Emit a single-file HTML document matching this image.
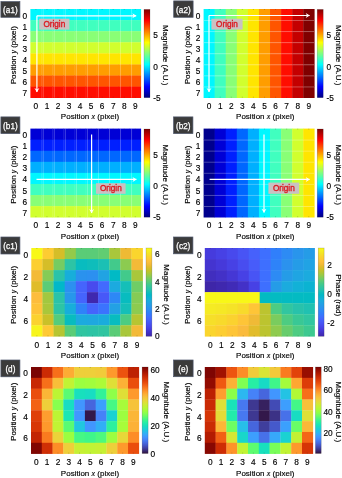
<!DOCTYPE html>
<html><head><meta charset="utf-8"><title>Figure</title>
<style>html,body{margin:0;padding:0;background:#fff;}svg{display:block}</style></head>
<body><svg width="342" height="478" viewBox="0 0 342 478">
<rect width="342" height="478" fill="#fff"/>
<g>
<rect x="30.40" y="9.00" width="11.34" height="11.39" fill="#00f7ff"/>
<rect x="41.44" y="9.00" width="11.34" height="11.39" fill="#00f7ff"/>
<rect x="52.48" y="9.00" width="11.34" height="11.39" fill="#00f7ff"/>
<rect x="63.52" y="9.00" width="11.34" height="11.39" fill="#00f7ff"/>
<rect x="74.56" y="9.00" width="11.34" height="11.39" fill="#00f7ff"/>
<rect x="85.60" y="9.00" width="11.34" height="11.39" fill="#00f7ff"/>
<rect x="96.64" y="9.00" width="11.34" height="11.39" fill="#00f7ff"/>
<rect x="107.68" y="9.00" width="11.34" height="11.39" fill="#00f7ff"/>
<rect x="118.72" y="9.00" width="11.34" height="11.39" fill="#00f7ff"/>
<rect x="129.76" y="9.00" width="11.34" height="11.39" fill="#00f7ff"/>
<rect x="30.40" y="20.09" width="11.34" height="11.39" fill="#40ffbf"/>
<rect x="41.44" y="20.09" width="11.34" height="11.39" fill="#40ffbf"/>
<rect x="52.48" y="20.09" width="11.34" height="11.39" fill="#40ffbf"/>
<rect x="63.52" y="20.09" width="11.34" height="11.39" fill="#40ffbf"/>
<rect x="74.56" y="20.09" width="11.34" height="11.39" fill="#40ffbf"/>
<rect x="85.60" y="20.09" width="11.34" height="11.39" fill="#40ffbf"/>
<rect x="96.64" y="20.09" width="11.34" height="11.39" fill="#40ffbf"/>
<rect x="107.68" y="20.09" width="11.34" height="11.39" fill="#40ffbf"/>
<rect x="118.72" y="20.09" width="11.34" height="11.39" fill="#40ffbf"/>
<rect x="129.76" y="20.09" width="11.34" height="11.39" fill="#40ffbf"/>
<rect x="30.40" y="31.18" width="11.34" height="11.39" fill="#89ff76"/>
<rect x="41.44" y="31.18" width="11.34" height="11.39" fill="#89ff76"/>
<rect x="52.48" y="31.18" width="11.34" height="11.39" fill="#89ff76"/>
<rect x="63.52" y="31.18" width="11.34" height="11.39" fill="#89ff76"/>
<rect x="74.56" y="31.18" width="11.34" height="11.39" fill="#89ff76"/>
<rect x="85.60" y="31.18" width="11.34" height="11.39" fill="#89ff76"/>
<rect x="96.64" y="31.18" width="11.34" height="11.39" fill="#89ff76"/>
<rect x="107.68" y="31.18" width="11.34" height="11.39" fill="#89ff76"/>
<rect x="118.72" y="31.18" width="11.34" height="11.39" fill="#89ff76"/>
<rect x="129.76" y="31.18" width="11.34" height="11.39" fill="#89ff76"/>
<rect x="30.40" y="42.26" width="11.34" height="11.39" fill="#d1ff2e"/>
<rect x="41.44" y="42.26" width="11.34" height="11.39" fill="#d1ff2e"/>
<rect x="52.48" y="42.26" width="11.34" height="11.39" fill="#d1ff2e"/>
<rect x="63.52" y="42.26" width="11.34" height="11.39" fill="#d1ff2e"/>
<rect x="74.56" y="42.26" width="11.34" height="11.39" fill="#d1ff2e"/>
<rect x="85.60" y="42.26" width="11.34" height="11.39" fill="#d1ff2e"/>
<rect x="96.64" y="42.26" width="11.34" height="11.39" fill="#d1ff2e"/>
<rect x="107.68" y="42.26" width="11.34" height="11.39" fill="#d1ff2e"/>
<rect x="118.72" y="42.26" width="11.34" height="11.39" fill="#d1ff2e"/>
<rect x="129.76" y="42.26" width="11.34" height="11.39" fill="#d1ff2e"/>
<rect x="30.40" y="53.35" width="11.34" height="11.39" fill="#ffe500"/>
<rect x="41.44" y="53.35" width="11.34" height="11.39" fill="#ffe500"/>
<rect x="52.48" y="53.35" width="11.34" height="11.39" fill="#ffe500"/>
<rect x="63.52" y="53.35" width="11.34" height="11.39" fill="#ffe500"/>
<rect x="74.56" y="53.35" width="11.34" height="11.39" fill="#ffe500"/>
<rect x="85.60" y="53.35" width="11.34" height="11.39" fill="#ffe500"/>
<rect x="96.64" y="53.35" width="11.34" height="11.39" fill="#ffe500"/>
<rect x="107.68" y="53.35" width="11.34" height="11.39" fill="#ffe500"/>
<rect x="118.72" y="53.35" width="11.34" height="11.39" fill="#ffe500"/>
<rect x="129.76" y="53.35" width="11.34" height="11.39" fill="#ffe500"/>
<rect x="30.40" y="64.44" width="11.34" height="11.39" fill="#ff9d00"/>
<rect x="41.44" y="64.44" width="11.34" height="11.39" fill="#ff9d00"/>
<rect x="52.48" y="64.44" width="11.34" height="11.39" fill="#ff9d00"/>
<rect x="63.52" y="64.44" width="11.34" height="11.39" fill="#ff9d00"/>
<rect x="74.56" y="64.44" width="11.34" height="11.39" fill="#ff9d00"/>
<rect x="85.60" y="64.44" width="11.34" height="11.39" fill="#ff9d00"/>
<rect x="96.64" y="64.44" width="11.34" height="11.39" fill="#ff9d00"/>
<rect x="107.68" y="64.44" width="11.34" height="11.39" fill="#ff9d00"/>
<rect x="118.72" y="64.44" width="11.34" height="11.39" fill="#ff9d00"/>
<rect x="129.76" y="64.44" width="11.34" height="11.39" fill="#ff9d00"/>
<rect x="30.40" y="75.53" width="11.34" height="11.39" fill="#ff5500"/>
<rect x="41.44" y="75.53" width="11.34" height="11.39" fill="#ff5500"/>
<rect x="52.48" y="75.53" width="11.34" height="11.39" fill="#ff5500"/>
<rect x="63.52" y="75.53" width="11.34" height="11.39" fill="#ff5500"/>
<rect x="74.56" y="75.53" width="11.34" height="11.39" fill="#ff5500"/>
<rect x="85.60" y="75.53" width="11.34" height="11.39" fill="#ff5500"/>
<rect x="96.64" y="75.53" width="11.34" height="11.39" fill="#ff5500"/>
<rect x="107.68" y="75.53" width="11.34" height="11.39" fill="#ff5500"/>
<rect x="118.72" y="75.53" width="11.34" height="11.39" fill="#ff5500"/>
<rect x="129.76" y="75.53" width="11.34" height="11.39" fill="#ff5500"/>
<rect x="30.40" y="86.61" width="11.34" height="11.39" fill="#ff0d00"/>
<rect x="41.44" y="86.61" width="11.34" height="11.39" fill="#ff0d00"/>
<rect x="52.48" y="86.61" width="11.34" height="11.39" fill="#ff0d00"/>
<rect x="63.52" y="86.61" width="11.34" height="11.39" fill="#ff0d00"/>
<rect x="74.56" y="86.61" width="11.34" height="11.39" fill="#ff0d00"/>
<rect x="85.60" y="86.61" width="11.34" height="11.39" fill="#ff0d00"/>
<rect x="96.64" y="86.61" width="11.34" height="11.39" fill="#ff0d00"/>
<rect x="107.68" y="86.61" width="11.34" height="11.39" fill="#ff0d00"/>
<rect x="118.72" y="86.61" width="11.34" height="11.39" fill="#ff0d00"/>
<rect x="129.76" y="86.61" width="11.34" height="11.39" fill="#ff0d00"/>
</g>
<line x1="43.24" y1="9.0" x2="43.24" y2="97.7" stroke="#fff" stroke-opacity="0.45" stroke-width="0.6"/>
<line x1="54.28" y1="9.0" x2="54.28" y2="97.7" stroke="#fff" stroke-opacity="0.45" stroke-width="0.6"/>
<line x1="65.32" y1="9.0" x2="65.32" y2="97.7" stroke="#fff" stroke-opacity="0.45" stroke-width="0.6"/>
<line x1="76.36" y1="9.0" x2="76.36" y2="97.7" stroke="#fff" stroke-opacity="0.45" stroke-width="0.6"/>
<line x1="87.40" y1="9.0" x2="87.40" y2="97.7" stroke="#fff" stroke-opacity="0.45" stroke-width="0.6"/>
<line x1="98.44" y1="9.0" x2="98.44" y2="97.7" stroke="#fff" stroke-opacity="0.45" stroke-width="0.6"/>
<line x1="109.48" y1="9.0" x2="109.48" y2="97.7" stroke="#fff" stroke-opacity="0.45" stroke-width="0.6"/>
<line x1="120.52" y1="9.0" x2="120.52" y2="97.7" stroke="#fff" stroke-opacity="0.45" stroke-width="0.6"/>
<line x1="131.56" y1="9.0" x2="131.56" y2="97.7" stroke="#fff" stroke-opacity="0.45" stroke-width="0.6"/>
<line x1="35.92" y1="9.0" x2="35.92" y2="10.0" stroke="#333" stroke-opacity="0.5" stroke-width="0.5"/>
<line x1="35.92" y1="97.7" x2="35.92" y2="96.7" stroke="#333" stroke-opacity="0.5" stroke-width="0.5"/>
<line x1="46.96" y1="9.0" x2="46.96" y2="10.0" stroke="#333" stroke-opacity="0.5" stroke-width="0.5"/>
<line x1="46.96" y1="97.7" x2="46.96" y2="96.7" stroke="#333" stroke-opacity="0.5" stroke-width="0.5"/>
<line x1="58.00" y1="9.0" x2="58.00" y2="10.0" stroke="#333" stroke-opacity="0.5" stroke-width="0.5"/>
<line x1="58.00" y1="97.7" x2="58.00" y2="96.7" stroke="#333" stroke-opacity="0.5" stroke-width="0.5"/>
<line x1="69.04" y1="9.0" x2="69.04" y2="10.0" stroke="#333" stroke-opacity="0.5" stroke-width="0.5"/>
<line x1="69.04" y1="97.7" x2="69.04" y2="96.7" stroke="#333" stroke-opacity="0.5" stroke-width="0.5"/>
<line x1="80.08" y1="9.0" x2="80.08" y2="10.0" stroke="#333" stroke-opacity="0.5" stroke-width="0.5"/>
<line x1="80.08" y1="97.7" x2="80.08" y2="96.7" stroke="#333" stroke-opacity="0.5" stroke-width="0.5"/>
<line x1="91.12" y1="9.0" x2="91.12" y2="10.0" stroke="#333" stroke-opacity="0.5" stroke-width="0.5"/>
<line x1="91.12" y1="97.7" x2="91.12" y2="96.7" stroke="#333" stroke-opacity="0.5" stroke-width="0.5"/>
<line x1="102.16" y1="9.0" x2="102.16" y2="10.0" stroke="#333" stroke-opacity="0.5" stroke-width="0.5"/>
<line x1="102.16" y1="97.7" x2="102.16" y2="96.7" stroke="#333" stroke-opacity="0.5" stroke-width="0.5"/>
<line x1="113.20" y1="9.0" x2="113.20" y2="10.0" stroke="#333" stroke-opacity="0.5" stroke-width="0.5"/>
<line x1="113.20" y1="97.7" x2="113.20" y2="96.7" stroke="#333" stroke-opacity="0.5" stroke-width="0.5"/>
<line x1="124.24" y1="9.0" x2="124.24" y2="10.0" stroke="#333" stroke-opacity="0.5" stroke-width="0.5"/>
<line x1="124.24" y1="97.7" x2="124.24" y2="96.7" stroke="#333" stroke-opacity="0.5" stroke-width="0.5"/>
<line x1="135.28" y1="9.0" x2="135.28" y2="10.0" stroke="#333" stroke-opacity="0.5" stroke-width="0.5"/>
<line x1="135.28" y1="97.7" x2="135.28" y2="96.7" stroke="#333" stroke-opacity="0.5" stroke-width="0.5"/>
<defs><linearGradient id="a1g" x1="0" y1="0" x2="0" y2="1"><stop offset="0.0000" stop-color="#800000"/><stop offset="0.0312" stop-color="#9f0000"/><stop offset="0.0625" stop-color="#bf0000"/><stop offset="0.0938" stop-color="#df0000"/><stop offset="0.1250" stop-color="#ff0000"/><stop offset="0.1562" stop-color="#ff2000"/><stop offset="0.1875" stop-color="#ff4000"/><stop offset="0.2188" stop-color="#ff6000"/><stop offset="0.2500" stop-color="#ff8000"/><stop offset="0.2812" stop-color="#ff9f00"/><stop offset="0.3125" stop-color="#ffbf00"/><stop offset="0.3438" stop-color="#ffdf00"/><stop offset="0.3750" stop-color="#ffff00"/><stop offset="0.4062" stop-color="#dfff20"/><stop offset="0.4375" stop-color="#bfff40"/><stop offset="0.4688" stop-color="#9fff60"/><stop offset="0.5000" stop-color="#80ff80"/><stop offset="0.5312" stop-color="#60ff9f"/><stop offset="0.5625" stop-color="#40ffbf"/><stop offset="0.5938" stop-color="#20ffdf"/><stop offset="0.6250" stop-color="#00ffff"/><stop offset="0.6562" stop-color="#00dfff"/><stop offset="0.6875" stop-color="#00bfff"/><stop offset="0.7188" stop-color="#009fff"/><stop offset="0.7500" stop-color="#0080ff"/><stop offset="0.7812" stop-color="#0060ff"/><stop offset="0.8125" stop-color="#0040ff"/><stop offset="0.8438" stop-color="#0020ff"/><stop offset="0.8750" stop-color="#0000ff"/><stop offset="0.9062" stop-color="#0000df"/><stop offset="0.9375" stop-color="#0000bf"/><stop offset="0.9688" stop-color="#00009f"/><stop offset="1.0000" stop-color="#000080"/></linearGradient></defs>
<rect x="144.0" y="9.4" width="6.00" height="88.30" fill="url(#a1g)" stroke="#222" stroke-opacity="0.35" stroke-width="0.5"/>
<text x="153.20" y="38.40" font-family='"Liberation Sans", Arial, sans-serif' font-size="8.3" fill="#000" stroke="#000" stroke-width="0.15">5</text>
<text x="153.20" y="69.60" font-family='"Liberation Sans", Arial, sans-serif' font-size="8.3" fill="#000" stroke="#000" stroke-width="0.15">0</text>
<text x="153.20" y="100.80" font-family='"Liberation Sans", Arial, sans-serif' font-size="8.3" fill="#000" stroke="#000" stroke-width="0.15">-5</text>
<text transform="translate(162.60,55.15) rotate(90)" text-anchor="middle" font-family='"Liberation Sans", Arial, sans-serif' font-size="8.0" fill="#000" stroke="#000" stroke-width="0.15">Magnitude (A.U.)</text>
<text x="35.92" y="108.90" text-anchor="middle" font-family='"Liberation Sans", Arial, sans-serif' font-size="8.3" fill="#000" stroke="#000" stroke-width="0.15">0</text>
<text x="46.96" y="108.90" text-anchor="middle" font-family='"Liberation Sans", Arial, sans-serif' font-size="8.3" fill="#000" stroke="#000" stroke-width="0.15">1</text>
<text x="58.00" y="108.90" text-anchor="middle" font-family='"Liberation Sans", Arial, sans-serif' font-size="8.3" fill="#000" stroke="#000" stroke-width="0.15">2</text>
<text x="69.04" y="108.90" text-anchor="middle" font-family='"Liberation Sans", Arial, sans-serif' font-size="8.3" fill="#000" stroke="#000" stroke-width="0.15">3</text>
<text x="80.08" y="108.90" text-anchor="middle" font-family='"Liberation Sans", Arial, sans-serif' font-size="8.3" fill="#000" stroke="#000" stroke-width="0.15">4</text>
<text x="91.12" y="108.90" text-anchor="middle" font-family='"Liberation Sans", Arial, sans-serif' font-size="8.3" fill="#000" stroke="#000" stroke-width="0.15">5</text>
<text x="102.16" y="108.90" text-anchor="middle" font-family='"Liberation Sans", Arial, sans-serif' font-size="8.3" fill="#000" stroke="#000" stroke-width="0.15">6</text>
<text x="113.20" y="108.90" text-anchor="middle" font-family='"Liberation Sans", Arial, sans-serif' font-size="8.3" fill="#000" stroke="#000" stroke-width="0.15">7</text>
<text x="124.24" y="108.90" text-anchor="middle" font-family='"Liberation Sans", Arial, sans-serif' font-size="8.3" fill="#000" stroke="#000" stroke-width="0.15">8</text>
<text x="135.28" y="108.90" text-anchor="middle" font-family='"Liberation Sans", Arial, sans-serif' font-size="8.3" fill="#000" stroke="#000" stroke-width="0.15">9</text>
<text x="27.20" y="18.54" text-anchor="end" font-family='"Liberation Sans", Arial, sans-serif' font-size="8.3" fill="#000" stroke="#000" stroke-width="0.15">0</text>
<text x="27.20" y="29.63" text-anchor="end" font-family='"Liberation Sans", Arial, sans-serif' font-size="8.3" fill="#000" stroke="#000" stroke-width="0.15">1</text>
<text x="27.20" y="40.72" text-anchor="end" font-family='"Liberation Sans", Arial, sans-serif' font-size="8.3" fill="#000" stroke="#000" stroke-width="0.15">2</text>
<text x="27.20" y="51.81" text-anchor="end" font-family='"Liberation Sans", Arial, sans-serif' font-size="8.3" fill="#000" stroke="#000" stroke-width="0.15">3</text>
<text x="27.20" y="62.89" text-anchor="end" font-family='"Liberation Sans", Arial, sans-serif' font-size="8.3" fill="#000" stroke="#000" stroke-width="0.15">4</text>
<text x="27.20" y="73.98" text-anchor="end" font-family='"Liberation Sans", Arial, sans-serif' font-size="8.3" fill="#000" stroke="#000" stroke-width="0.15">5</text>
<text x="27.20" y="85.07" text-anchor="end" font-family='"Liberation Sans", Arial, sans-serif' font-size="8.3" fill="#000" stroke="#000" stroke-width="0.15">6</text>
<text x="27.20" y="96.16" text-anchor="end" font-family='"Liberation Sans", Arial, sans-serif' font-size="8.3" fill="#000" stroke="#000" stroke-width="0.15">7</text>
<text x="90.00" y="119.30" text-anchor="middle" font-family='"Liberation Sans", Arial, sans-serif' font-size="8.0" fill="#000" stroke="#000" stroke-width="0.15">Position <tspan font-family='"Liberation Serif", "Times New Roman", serif' font-style="italic">x</tspan> (pixel)</text>
<text transform="translate(15.60,55.15) rotate(-90)" text-anchor="middle" font-family='"Liberation Sans", Arial, sans-serif' font-size="8.0" fill="#000" stroke="#000" stroke-width="0.15">Position <tspan font-family='"Liberation Serif", "Times New Roman", serif' font-style="italic">y</tspan> (pixel)</text>
<rect x="0.9" y="1.6" width="19.00" height="15.70" fill="#3b3b3b" stroke="#4d566b" stroke-width="0.7"/>
<text x="10.40" y="12.85" text-anchor="middle" font-family='"Liberation Sans", Arial, sans-serif' font-size="8.2" fill="#fff" stroke="#fff" stroke-width="0.25">(a1)</text>
<line x1="36.9" y1="15.8" x2="136.2" y2="15.8" stroke="#fff" stroke-width="1.2"/>
<polygon points="136.40,15.80 132.30,18.30 133.60,15.80 132.30,13.30" fill="#fff"/>
<line x1="36.9" y1="15.8" x2="36.9" y2="92.0" stroke="#fff" stroke-width="1.2"/>
<polygon points="36.90,92.20 34.40,88.10 36.90,89.40 39.40,88.10" fill="#fff"/>
<rect x="39.2" y="18.7" width="30.20" height="10.90" fill="#c9c2c2"/>
<text x="54.30" y="26.75" text-anchor="middle" font-family='"Liberation Sans", Arial, sans-serif' font-size="8.2" fill="#dc1820" stroke="#dc1820" stroke-width="0.35">Origin</text>
<g>
<rect x="203.60" y="9.00" width="11.37" height="11.39" fill="#00f7ff"/>
<rect x="214.67" y="9.00" width="11.37" height="11.39" fill="#40ffbf"/>
<rect x="225.74" y="9.00" width="11.37" height="11.39" fill="#89ff76"/>
<rect x="236.81" y="9.00" width="11.37" height="11.39" fill="#d1ff2e"/>
<rect x="247.88" y="9.00" width="11.37" height="11.39" fill="#ffe500"/>
<rect x="258.95" y="9.00" width="11.37" height="11.39" fill="#ff9d00"/>
<rect x="270.02" y="9.00" width="11.37" height="11.39" fill="#ff5500"/>
<rect x="281.09" y="9.00" width="11.37" height="11.39" fill="#ff0d00"/>
<rect x="292.16" y="9.00" width="11.37" height="11.39" fill="#c40000"/>
<rect x="303.23" y="9.00" width="11.37" height="11.39" fill="#800000"/>
<rect x="203.60" y="20.09" width="11.37" height="11.39" fill="#00f7ff"/>
<rect x="214.67" y="20.09" width="11.37" height="11.39" fill="#40ffbf"/>
<rect x="225.74" y="20.09" width="11.37" height="11.39" fill="#89ff76"/>
<rect x="236.81" y="20.09" width="11.37" height="11.39" fill="#d1ff2e"/>
<rect x="247.88" y="20.09" width="11.37" height="11.39" fill="#ffe500"/>
<rect x="258.95" y="20.09" width="11.37" height="11.39" fill="#ff9d00"/>
<rect x="270.02" y="20.09" width="11.37" height="11.39" fill="#ff5500"/>
<rect x="281.09" y="20.09" width="11.37" height="11.39" fill="#ff0d00"/>
<rect x="292.16" y="20.09" width="11.37" height="11.39" fill="#c40000"/>
<rect x="303.23" y="20.09" width="11.37" height="11.39" fill="#800000"/>
<rect x="203.60" y="31.18" width="11.37" height="11.39" fill="#00f7ff"/>
<rect x="214.67" y="31.18" width="11.37" height="11.39" fill="#40ffbf"/>
<rect x="225.74" y="31.18" width="11.37" height="11.39" fill="#89ff76"/>
<rect x="236.81" y="31.18" width="11.37" height="11.39" fill="#d1ff2e"/>
<rect x="247.88" y="31.18" width="11.37" height="11.39" fill="#ffe500"/>
<rect x="258.95" y="31.18" width="11.37" height="11.39" fill="#ff9d00"/>
<rect x="270.02" y="31.18" width="11.37" height="11.39" fill="#ff5500"/>
<rect x="281.09" y="31.18" width="11.37" height="11.39" fill="#ff0d00"/>
<rect x="292.16" y="31.18" width="11.37" height="11.39" fill="#c40000"/>
<rect x="303.23" y="31.18" width="11.37" height="11.39" fill="#800000"/>
<rect x="203.60" y="42.26" width="11.37" height="11.39" fill="#00f7ff"/>
<rect x="214.67" y="42.26" width="11.37" height="11.39" fill="#40ffbf"/>
<rect x="225.74" y="42.26" width="11.37" height="11.39" fill="#89ff76"/>
<rect x="236.81" y="42.26" width="11.37" height="11.39" fill="#d1ff2e"/>
<rect x="247.88" y="42.26" width="11.37" height="11.39" fill="#ffe500"/>
<rect x="258.95" y="42.26" width="11.37" height="11.39" fill="#ff9d00"/>
<rect x="270.02" y="42.26" width="11.37" height="11.39" fill="#ff5500"/>
<rect x="281.09" y="42.26" width="11.37" height="11.39" fill="#ff0d00"/>
<rect x="292.16" y="42.26" width="11.37" height="11.39" fill="#c40000"/>
<rect x="303.23" y="42.26" width="11.37" height="11.39" fill="#800000"/>
<rect x="203.60" y="53.35" width="11.37" height="11.39" fill="#00f7ff"/>
<rect x="214.67" y="53.35" width="11.37" height="11.39" fill="#40ffbf"/>
<rect x="225.74" y="53.35" width="11.37" height="11.39" fill="#89ff76"/>
<rect x="236.81" y="53.35" width="11.37" height="11.39" fill="#d1ff2e"/>
<rect x="247.88" y="53.35" width="11.37" height="11.39" fill="#ffe500"/>
<rect x="258.95" y="53.35" width="11.37" height="11.39" fill="#ff9d00"/>
<rect x="270.02" y="53.35" width="11.37" height="11.39" fill="#ff5500"/>
<rect x="281.09" y="53.35" width="11.37" height="11.39" fill="#ff0d00"/>
<rect x="292.16" y="53.35" width="11.37" height="11.39" fill="#c40000"/>
<rect x="303.23" y="53.35" width="11.37" height="11.39" fill="#800000"/>
<rect x="203.60" y="64.44" width="11.37" height="11.39" fill="#00f7ff"/>
<rect x="214.67" y="64.44" width="11.37" height="11.39" fill="#40ffbf"/>
<rect x="225.74" y="64.44" width="11.37" height="11.39" fill="#89ff76"/>
<rect x="236.81" y="64.44" width="11.37" height="11.39" fill="#d1ff2e"/>
<rect x="247.88" y="64.44" width="11.37" height="11.39" fill="#ffe500"/>
<rect x="258.95" y="64.44" width="11.37" height="11.39" fill="#ff9d00"/>
<rect x="270.02" y="64.44" width="11.37" height="11.39" fill="#ff5500"/>
<rect x="281.09" y="64.44" width="11.37" height="11.39" fill="#ff0d00"/>
<rect x="292.16" y="64.44" width="11.37" height="11.39" fill="#c40000"/>
<rect x="303.23" y="64.44" width="11.37" height="11.39" fill="#800000"/>
<rect x="203.60" y="75.53" width="11.37" height="11.39" fill="#00f7ff"/>
<rect x="214.67" y="75.53" width="11.37" height="11.39" fill="#40ffbf"/>
<rect x="225.74" y="75.53" width="11.37" height="11.39" fill="#89ff76"/>
<rect x="236.81" y="75.53" width="11.37" height="11.39" fill="#d1ff2e"/>
<rect x="247.88" y="75.53" width="11.37" height="11.39" fill="#ffe500"/>
<rect x="258.95" y="75.53" width="11.37" height="11.39" fill="#ff9d00"/>
<rect x="270.02" y="75.53" width="11.37" height="11.39" fill="#ff5500"/>
<rect x="281.09" y="75.53" width="11.37" height="11.39" fill="#ff0d00"/>
<rect x="292.16" y="75.53" width="11.37" height="11.39" fill="#c40000"/>
<rect x="303.23" y="75.53" width="11.37" height="11.39" fill="#800000"/>
<rect x="203.60" y="86.61" width="11.37" height="11.39" fill="#00f7ff"/>
<rect x="214.67" y="86.61" width="11.37" height="11.39" fill="#40ffbf"/>
<rect x="225.74" y="86.61" width="11.37" height="11.39" fill="#89ff76"/>
<rect x="236.81" y="86.61" width="11.37" height="11.39" fill="#d1ff2e"/>
<rect x="247.88" y="86.61" width="11.37" height="11.39" fill="#ffe500"/>
<rect x="258.95" y="86.61" width="11.37" height="11.39" fill="#ff9d00"/>
<rect x="270.02" y="86.61" width="11.37" height="11.39" fill="#ff5500"/>
<rect x="281.09" y="86.61" width="11.37" height="11.39" fill="#ff0d00"/>
<rect x="292.16" y="86.61" width="11.37" height="11.39" fill="#c40000"/>
<rect x="303.23" y="86.61" width="11.37" height="11.39" fill="#800000"/>
</g>
<line x1="203.6" y1="20.49" x2="314.3" y2="20.49" stroke="#fff" stroke-opacity="0.45" stroke-width="0.6"/>
<line x1="203.6" y1="31.57" x2="314.3" y2="31.57" stroke="#fff" stroke-opacity="0.45" stroke-width="0.6"/>
<line x1="203.6" y1="42.66" x2="314.3" y2="42.66" stroke="#fff" stroke-opacity="0.45" stroke-width="0.6"/>
<line x1="203.6" y1="53.75" x2="314.3" y2="53.75" stroke="#fff" stroke-opacity="0.45" stroke-width="0.6"/>
<line x1="203.6" y1="64.84" x2="314.3" y2="64.84" stroke="#fff" stroke-opacity="0.45" stroke-width="0.6"/>
<line x1="203.6" y1="75.93" x2="314.3" y2="75.93" stroke="#fff" stroke-opacity="0.45" stroke-width="0.6"/>
<line x1="203.6" y1="87.01" x2="314.3" y2="87.01" stroke="#fff" stroke-opacity="0.45" stroke-width="0.6"/>
<line x1="209.13" y1="9.0" x2="209.13" y2="10.0" stroke="#333" stroke-opacity="0.5" stroke-width="0.5"/>
<line x1="209.13" y1="97.7" x2="209.13" y2="96.7" stroke="#333" stroke-opacity="0.5" stroke-width="0.5"/>
<line x1="220.20" y1="9.0" x2="220.20" y2="10.0" stroke="#333" stroke-opacity="0.5" stroke-width="0.5"/>
<line x1="220.20" y1="97.7" x2="220.20" y2="96.7" stroke="#333" stroke-opacity="0.5" stroke-width="0.5"/>
<line x1="231.28" y1="9.0" x2="231.28" y2="10.0" stroke="#333" stroke-opacity="0.5" stroke-width="0.5"/>
<line x1="231.28" y1="97.7" x2="231.28" y2="96.7" stroke="#333" stroke-opacity="0.5" stroke-width="0.5"/>
<line x1="242.34" y1="9.0" x2="242.34" y2="10.0" stroke="#333" stroke-opacity="0.5" stroke-width="0.5"/>
<line x1="242.34" y1="97.7" x2="242.34" y2="96.7" stroke="#333" stroke-opacity="0.5" stroke-width="0.5"/>
<line x1="253.42" y1="9.0" x2="253.42" y2="10.0" stroke="#333" stroke-opacity="0.5" stroke-width="0.5"/>
<line x1="253.42" y1="97.7" x2="253.42" y2="96.7" stroke="#333" stroke-opacity="0.5" stroke-width="0.5"/>
<line x1="264.49" y1="9.0" x2="264.49" y2="10.0" stroke="#333" stroke-opacity="0.5" stroke-width="0.5"/>
<line x1="264.49" y1="97.7" x2="264.49" y2="96.7" stroke="#333" stroke-opacity="0.5" stroke-width="0.5"/>
<line x1="275.56" y1="9.0" x2="275.56" y2="10.0" stroke="#333" stroke-opacity="0.5" stroke-width="0.5"/>
<line x1="275.56" y1="97.7" x2="275.56" y2="96.7" stroke="#333" stroke-opacity="0.5" stroke-width="0.5"/>
<line x1="286.62" y1="9.0" x2="286.62" y2="10.0" stroke="#333" stroke-opacity="0.5" stroke-width="0.5"/>
<line x1="286.62" y1="97.7" x2="286.62" y2="96.7" stroke="#333" stroke-opacity="0.5" stroke-width="0.5"/>
<line x1="297.69" y1="9.0" x2="297.69" y2="10.0" stroke="#333" stroke-opacity="0.5" stroke-width="0.5"/>
<line x1="297.69" y1="97.7" x2="297.69" y2="96.7" stroke="#333" stroke-opacity="0.5" stroke-width="0.5"/>
<line x1="308.76" y1="9.0" x2="308.76" y2="10.0" stroke="#333" stroke-opacity="0.5" stroke-width="0.5"/>
<line x1="308.76" y1="97.7" x2="308.76" y2="96.7" stroke="#333" stroke-opacity="0.5" stroke-width="0.5"/>
<defs><linearGradient id="a2g" x1="0" y1="0" x2="0" y2="1"><stop offset="0.0000" stop-color="#800000"/><stop offset="0.0312" stop-color="#9f0000"/><stop offset="0.0625" stop-color="#bf0000"/><stop offset="0.0938" stop-color="#df0000"/><stop offset="0.1250" stop-color="#ff0000"/><stop offset="0.1562" stop-color="#ff2000"/><stop offset="0.1875" stop-color="#ff4000"/><stop offset="0.2188" stop-color="#ff6000"/><stop offset="0.2500" stop-color="#ff8000"/><stop offset="0.2812" stop-color="#ff9f00"/><stop offset="0.3125" stop-color="#ffbf00"/><stop offset="0.3438" stop-color="#ffdf00"/><stop offset="0.3750" stop-color="#ffff00"/><stop offset="0.4062" stop-color="#dfff20"/><stop offset="0.4375" stop-color="#bfff40"/><stop offset="0.4688" stop-color="#9fff60"/><stop offset="0.5000" stop-color="#80ff80"/><stop offset="0.5312" stop-color="#60ff9f"/><stop offset="0.5625" stop-color="#40ffbf"/><stop offset="0.5938" stop-color="#20ffdf"/><stop offset="0.6250" stop-color="#00ffff"/><stop offset="0.6562" stop-color="#00dfff"/><stop offset="0.6875" stop-color="#00bfff"/><stop offset="0.7188" stop-color="#009fff"/><stop offset="0.7500" stop-color="#0080ff"/><stop offset="0.7812" stop-color="#0060ff"/><stop offset="0.8125" stop-color="#0040ff"/><stop offset="0.8438" stop-color="#0020ff"/><stop offset="0.8750" stop-color="#0000ff"/><stop offset="0.9062" stop-color="#0000df"/><stop offset="0.9375" stop-color="#0000bf"/><stop offset="0.9688" stop-color="#00009f"/><stop offset="1.0000" stop-color="#000080"/></linearGradient></defs>
<rect x="317.2" y="9.4" width="6.00" height="88.30" fill="url(#a2g)" stroke="#222" stroke-opacity="0.35" stroke-width="0.5"/>
<text x="326.40" y="38.40" font-family='"Liberation Sans", Arial, sans-serif' font-size="8.3" fill="#000" stroke="#000" stroke-width="0.15">5</text>
<text x="326.40" y="69.60" font-family='"Liberation Sans", Arial, sans-serif' font-size="8.3" fill="#000" stroke="#000" stroke-width="0.15">0</text>
<text x="326.40" y="100.80" font-family='"Liberation Sans", Arial, sans-serif' font-size="8.3" fill="#000" stroke="#000" stroke-width="0.15">-5</text>
<text transform="translate(336.00,55.15) rotate(90)" text-anchor="middle" font-family='"Liberation Sans", Arial, sans-serif' font-size="8.0" fill="#000" stroke="#000" stroke-width="0.15">Magnitude (A.U.)</text>
<text x="209.13" y="108.90" text-anchor="middle" font-family='"Liberation Sans", Arial, sans-serif' font-size="8.3" fill="#000" stroke="#000" stroke-width="0.15">0</text>
<text x="220.20" y="108.90" text-anchor="middle" font-family='"Liberation Sans", Arial, sans-serif' font-size="8.3" fill="#000" stroke="#000" stroke-width="0.15">1</text>
<text x="231.28" y="108.90" text-anchor="middle" font-family='"Liberation Sans", Arial, sans-serif' font-size="8.3" fill="#000" stroke="#000" stroke-width="0.15">2</text>
<text x="242.34" y="108.90" text-anchor="middle" font-family='"Liberation Sans", Arial, sans-serif' font-size="8.3" fill="#000" stroke="#000" stroke-width="0.15">3</text>
<text x="253.42" y="108.90" text-anchor="middle" font-family='"Liberation Sans", Arial, sans-serif' font-size="8.3" fill="#000" stroke="#000" stroke-width="0.15">4</text>
<text x="264.49" y="108.90" text-anchor="middle" font-family='"Liberation Sans", Arial, sans-serif' font-size="8.3" fill="#000" stroke="#000" stroke-width="0.15">5</text>
<text x="275.56" y="108.90" text-anchor="middle" font-family='"Liberation Sans", Arial, sans-serif' font-size="8.3" fill="#000" stroke="#000" stroke-width="0.15">6</text>
<text x="286.62" y="108.90" text-anchor="middle" font-family='"Liberation Sans", Arial, sans-serif' font-size="8.3" fill="#000" stroke="#000" stroke-width="0.15">7</text>
<text x="297.69" y="108.90" text-anchor="middle" font-family='"Liberation Sans", Arial, sans-serif' font-size="8.3" fill="#000" stroke="#000" stroke-width="0.15">8</text>
<text x="308.76" y="108.90" text-anchor="middle" font-family='"Liberation Sans", Arial, sans-serif' font-size="8.3" fill="#000" stroke="#000" stroke-width="0.15">9</text>
<text x="200.40" y="18.54" text-anchor="end" font-family='"Liberation Sans", Arial, sans-serif' font-size="8.3" fill="#000" stroke="#000" stroke-width="0.15">0</text>
<text x="200.40" y="29.63" text-anchor="end" font-family='"Liberation Sans", Arial, sans-serif' font-size="8.3" fill="#000" stroke="#000" stroke-width="0.15">1</text>
<text x="200.40" y="40.72" text-anchor="end" font-family='"Liberation Sans", Arial, sans-serif' font-size="8.3" fill="#000" stroke="#000" stroke-width="0.15">2</text>
<text x="200.40" y="51.81" text-anchor="end" font-family='"Liberation Sans", Arial, sans-serif' font-size="8.3" fill="#000" stroke="#000" stroke-width="0.15">3</text>
<text x="200.40" y="62.89" text-anchor="end" font-family='"Liberation Sans", Arial, sans-serif' font-size="8.3" fill="#000" stroke="#000" stroke-width="0.15">4</text>
<text x="200.40" y="73.98" text-anchor="end" font-family='"Liberation Sans", Arial, sans-serif' font-size="8.3" fill="#000" stroke="#000" stroke-width="0.15">5</text>
<text x="200.40" y="85.07" text-anchor="end" font-family='"Liberation Sans", Arial, sans-serif' font-size="8.3" fill="#000" stroke="#000" stroke-width="0.15">6</text>
<text x="200.40" y="96.16" text-anchor="end" font-family='"Liberation Sans", Arial, sans-serif' font-size="8.3" fill="#000" stroke="#000" stroke-width="0.15">7</text>
<text x="265.20" y="119.30" text-anchor="middle" font-family='"Liberation Sans", Arial, sans-serif' font-size="8.0" fill="#000" stroke="#000" stroke-width="0.15">Position <tspan font-family='"Liberation Serif", "Times New Roman", serif' font-style="italic">x</tspan> (pixel)</text>
<text transform="translate(190.00,55.15) rotate(-90)" text-anchor="middle" font-family='"Liberation Sans", Arial, sans-serif' font-size="8.0" fill="#000" stroke="#000" stroke-width="0.15">Position <tspan font-family='"Liberation Serif", "Times New Roman", serif' font-style="italic">y</tspan> (pixel)</text>
<rect x="173.7" y="0.9" width="19.40" height="16.40" fill="#3b3b3b" stroke="#4d566b" stroke-width="0.7"/>
<text x="183.40" y="12.50" text-anchor="middle" font-family='"Liberation Sans", Arial, sans-serif' font-size="8.2" fill="#fff" stroke="#fff" stroke-width="0.25">(a2)</text>
<line x1="209.0" y1="15.5" x2="309.6" y2="15.5" stroke="#fff" stroke-width="1.2"/>
<polygon points="309.80,15.50 305.70,18.00 307.00,15.50 305.70,13.00" fill="#fff"/>
<line x1="209.0" y1="15.5" x2="209.0" y2="92.0" stroke="#fff" stroke-width="1.2"/>
<polygon points="209.00,92.20 206.50,88.10 209.00,89.40 211.50,88.10" fill="#fff"/>
<rect x="211.4" y="18.7" width="31.20" height="10.90" fill="#c9c2c2"/>
<text x="227.00" y="26.75" text-anchor="middle" font-family='"Liberation Sans", Arial, sans-serif' font-size="8.2" fill="#dc1820" stroke="#dc1820" stroke-width="0.35">Origin</text>
<g>
<rect x="30.40" y="128.60" width="11.34" height="11.38" fill="#0000d6"/>
<rect x="41.44" y="128.60" width="11.34" height="11.38" fill="#0000d6"/>
<rect x="52.48" y="128.60" width="11.34" height="11.38" fill="#0000d6"/>
<rect x="63.52" y="128.60" width="11.34" height="11.38" fill="#0000d6"/>
<rect x="74.56" y="128.60" width="11.34" height="11.38" fill="#0000d6"/>
<rect x="85.60" y="128.60" width="11.34" height="11.38" fill="#0000d6"/>
<rect x="96.64" y="128.60" width="11.34" height="11.38" fill="#0000d6"/>
<rect x="107.68" y="128.60" width="11.34" height="11.38" fill="#0000d6"/>
<rect x="118.72" y="128.60" width="11.34" height="11.38" fill="#0000d6"/>
<rect x="129.76" y="128.60" width="11.34" height="11.38" fill="#0000d6"/>
<rect x="30.40" y="139.67" width="11.34" height="11.38" fill="#001fff"/>
<rect x="41.44" y="139.67" width="11.34" height="11.38" fill="#001fff"/>
<rect x="52.48" y="139.67" width="11.34" height="11.38" fill="#001fff"/>
<rect x="63.52" y="139.67" width="11.34" height="11.38" fill="#001fff"/>
<rect x="74.56" y="139.67" width="11.34" height="11.38" fill="#001fff"/>
<rect x="85.60" y="139.67" width="11.34" height="11.38" fill="#001fff"/>
<rect x="96.64" y="139.67" width="11.34" height="11.38" fill="#001fff"/>
<rect x="107.68" y="139.67" width="11.34" height="11.38" fill="#001fff"/>
<rect x="118.72" y="139.67" width="11.34" height="11.38" fill="#001fff"/>
<rect x="129.76" y="139.67" width="11.34" height="11.38" fill="#001fff"/>
<rect x="30.40" y="150.75" width="11.34" height="11.38" fill="#0067ff"/>
<rect x="41.44" y="150.75" width="11.34" height="11.38" fill="#0067ff"/>
<rect x="52.48" y="150.75" width="11.34" height="11.38" fill="#0067ff"/>
<rect x="63.52" y="150.75" width="11.34" height="11.38" fill="#0067ff"/>
<rect x="74.56" y="150.75" width="11.34" height="11.38" fill="#0067ff"/>
<rect x="85.60" y="150.75" width="11.34" height="11.38" fill="#0067ff"/>
<rect x="96.64" y="150.75" width="11.34" height="11.38" fill="#0067ff"/>
<rect x="107.68" y="150.75" width="11.34" height="11.38" fill="#0067ff"/>
<rect x="118.72" y="150.75" width="11.34" height="11.38" fill="#0067ff"/>
<rect x="129.76" y="150.75" width="11.34" height="11.38" fill="#0067ff"/>
<rect x="30.40" y="161.82" width="11.34" height="11.38" fill="#00afff"/>
<rect x="41.44" y="161.82" width="11.34" height="11.38" fill="#00afff"/>
<rect x="52.48" y="161.82" width="11.34" height="11.38" fill="#00afff"/>
<rect x="63.52" y="161.82" width="11.34" height="11.38" fill="#00afff"/>
<rect x="74.56" y="161.82" width="11.34" height="11.38" fill="#00afff"/>
<rect x="85.60" y="161.82" width="11.34" height="11.38" fill="#00afff"/>
<rect x="96.64" y="161.82" width="11.34" height="11.38" fill="#00afff"/>
<rect x="107.68" y="161.82" width="11.34" height="11.38" fill="#00afff"/>
<rect x="118.72" y="161.82" width="11.34" height="11.38" fill="#00afff"/>
<rect x="129.76" y="161.82" width="11.34" height="11.38" fill="#00afff"/>
<rect x="30.40" y="172.90" width="11.34" height="11.38" fill="#00f7ff"/>
<rect x="41.44" y="172.90" width="11.34" height="11.38" fill="#00f7ff"/>
<rect x="52.48" y="172.90" width="11.34" height="11.38" fill="#00f7ff"/>
<rect x="63.52" y="172.90" width="11.34" height="11.38" fill="#00f7ff"/>
<rect x="74.56" y="172.90" width="11.34" height="11.38" fill="#00f7ff"/>
<rect x="85.60" y="172.90" width="11.34" height="11.38" fill="#00f7ff"/>
<rect x="96.64" y="172.90" width="11.34" height="11.38" fill="#00f7ff"/>
<rect x="107.68" y="172.90" width="11.34" height="11.38" fill="#00f7ff"/>
<rect x="118.72" y="172.90" width="11.34" height="11.38" fill="#00f7ff"/>
<rect x="129.76" y="172.90" width="11.34" height="11.38" fill="#00f7ff"/>
<rect x="30.40" y="183.97" width="11.34" height="11.38" fill="#40ffbf"/>
<rect x="41.44" y="183.97" width="11.34" height="11.38" fill="#40ffbf"/>
<rect x="52.48" y="183.97" width="11.34" height="11.38" fill="#40ffbf"/>
<rect x="63.52" y="183.97" width="11.34" height="11.38" fill="#40ffbf"/>
<rect x="74.56" y="183.97" width="11.34" height="11.38" fill="#40ffbf"/>
<rect x="85.60" y="183.97" width="11.34" height="11.38" fill="#40ffbf"/>
<rect x="96.64" y="183.97" width="11.34" height="11.38" fill="#40ffbf"/>
<rect x="107.68" y="183.97" width="11.34" height="11.38" fill="#40ffbf"/>
<rect x="118.72" y="183.97" width="11.34" height="11.38" fill="#40ffbf"/>
<rect x="129.76" y="183.97" width="11.34" height="11.38" fill="#40ffbf"/>
<rect x="30.40" y="195.05" width="11.34" height="11.38" fill="#89ff76"/>
<rect x="41.44" y="195.05" width="11.34" height="11.38" fill="#89ff76"/>
<rect x="52.48" y="195.05" width="11.34" height="11.38" fill="#89ff76"/>
<rect x="63.52" y="195.05" width="11.34" height="11.38" fill="#89ff76"/>
<rect x="74.56" y="195.05" width="11.34" height="11.38" fill="#89ff76"/>
<rect x="85.60" y="195.05" width="11.34" height="11.38" fill="#89ff76"/>
<rect x="96.64" y="195.05" width="11.34" height="11.38" fill="#89ff76"/>
<rect x="107.68" y="195.05" width="11.34" height="11.38" fill="#89ff76"/>
<rect x="118.72" y="195.05" width="11.34" height="11.38" fill="#89ff76"/>
<rect x="129.76" y="195.05" width="11.34" height="11.38" fill="#89ff76"/>
<rect x="30.40" y="206.12" width="11.34" height="11.38" fill="#d1ff2e"/>
<rect x="41.44" y="206.12" width="11.34" height="11.38" fill="#d1ff2e"/>
<rect x="52.48" y="206.12" width="11.34" height="11.38" fill="#d1ff2e"/>
<rect x="63.52" y="206.12" width="11.34" height="11.38" fill="#d1ff2e"/>
<rect x="74.56" y="206.12" width="11.34" height="11.38" fill="#d1ff2e"/>
<rect x="85.60" y="206.12" width="11.34" height="11.38" fill="#d1ff2e"/>
<rect x="96.64" y="206.12" width="11.34" height="11.38" fill="#d1ff2e"/>
<rect x="107.68" y="206.12" width="11.34" height="11.38" fill="#d1ff2e"/>
<rect x="118.72" y="206.12" width="11.34" height="11.38" fill="#d1ff2e"/>
<rect x="129.76" y="206.12" width="11.34" height="11.38" fill="#d1ff2e"/>
</g>
<line x1="43.24" y1="128.6" x2="43.24" y2="217.2" stroke="#fff" stroke-opacity="0.45" stroke-width="0.6"/>
<line x1="54.28" y1="128.6" x2="54.28" y2="217.2" stroke="#fff" stroke-opacity="0.45" stroke-width="0.6"/>
<line x1="65.32" y1="128.6" x2="65.32" y2="217.2" stroke="#fff" stroke-opacity="0.45" stroke-width="0.6"/>
<line x1="76.36" y1="128.6" x2="76.36" y2="217.2" stroke="#fff" stroke-opacity="0.45" stroke-width="0.6"/>
<line x1="87.40" y1="128.6" x2="87.40" y2="217.2" stroke="#fff" stroke-opacity="0.45" stroke-width="0.6"/>
<line x1="98.44" y1="128.6" x2="98.44" y2="217.2" stroke="#fff" stroke-opacity="0.45" stroke-width="0.6"/>
<line x1="109.48" y1="128.6" x2="109.48" y2="217.2" stroke="#fff" stroke-opacity="0.45" stroke-width="0.6"/>
<line x1="120.52" y1="128.6" x2="120.52" y2="217.2" stroke="#fff" stroke-opacity="0.45" stroke-width="0.6"/>
<line x1="131.56" y1="128.6" x2="131.56" y2="217.2" stroke="#fff" stroke-opacity="0.45" stroke-width="0.6"/>
<line x1="35.92" y1="128.6" x2="35.92" y2="129.6" stroke="#333" stroke-opacity="0.5" stroke-width="0.5"/>
<line x1="35.92" y1="217.2" x2="35.92" y2="216.2" stroke="#333" stroke-opacity="0.5" stroke-width="0.5"/>
<line x1="46.96" y1="128.6" x2="46.96" y2="129.6" stroke="#333" stroke-opacity="0.5" stroke-width="0.5"/>
<line x1="46.96" y1="217.2" x2="46.96" y2="216.2" stroke="#333" stroke-opacity="0.5" stroke-width="0.5"/>
<line x1="58.00" y1="128.6" x2="58.00" y2="129.6" stroke="#333" stroke-opacity="0.5" stroke-width="0.5"/>
<line x1="58.00" y1="217.2" x2="58.00" y2="216.2" stroke="#333" stroke-opacity="0.5" stroke-width="0.5"/>
<line x1="69.04" y1="128.6" x2="69.04" y2="129.6" stroke="#333" stroke-opacity="0.5" stroke-width="0.5"/>
<line x1="69.04" y1="217.2" x2="69.04" y2="216.2" stroke="#333" stroke-opacity="0.5" stroke-width="0.5"/>
<line x1="80.08" y1="128.6" x2="80.08" y2="129.6" stroke="#333" stroke-opacity="0.5" stroke-width="0.5"/>
<line x1="80.08" y1="217.2" x2="80.08" y2="216.2" stroke="#333" stroke-opacity="0.5" stroke-width="0.5"/>
<line x1="91.12" y1="128.6" x2="91.12" y2="129.6" stroke="#333" stroke-opacity="0.5" stroke-width="0.5"/>
<line x1="91.12" y1="217.2" x2="91.12" y2="216.2" stroke="#333" stroke-opacity="0.5" stroke-width="0.5"/>
<line x1="102.16" y1="128.6" x2="102.16" y2="129.6" stroke="#333" stroke-opacity="0.5" stroke-width="0.5"/>
<line x1="102.16" y1="217.2" x2="102.16" y2="216.2" stroke="#333" stroke-opacity="0.5" stroke-width="0.5"/>
<line x1="113.20" y1="128.6" x2="113.20" y2="129.6" stroke="#333" stroke-opacity="0.5" stroke-width="0.5"/>
<line x1="113.20" y1="217.2" x2="113.20" y2="216.2" stroke="#333" stroke-opacity="0.5" stroke-width="0.5"/>
<line x1="124.24" y1="128.6" x2="124.24" y2="129.6" stroke="#333" stroke-opacity="0.5" stroke-width="0.5"/>
<line x1="124.24" y1="217.2" x2="124.24" y2="216.2" stroke="#333" stroke-opacity="0.5" stroke-width="0.5"/>
<line x1="135.28" y1="128.6" x2="135.28" y2="129.6" stroke="#333" stroke-opacity="0.5" stroke-width="0.5"/>
<line x1="135.28" y1="217.2" x2="135.28" y2="216.2" stroke="#333" stroke-opacity="0.5" stroke-width="0.5"/>
<defs><linearGradient id="b1g" x1="0" y1="0" x2="0" y2="1"><stop offset="0.0000" stop-color="#800000"/><stop offset="0.0312" stop-color="#9f0000"/><stop offset="0.0625" stop-color="#bf0000"/><stop offset="0.0938" stop-color="#df0000"/><stop offset="0.1250" stop-color="#ff0000"/><stop offset="0.1562" stop-color="#ff2000"/><stop offset="0.1875" stop-color="#ff4000"/><stop offset="0.2188" stop-color="#ff6000"/><stop offset="0.2500" stop-color="#ff8000"/><stop offset="0.2812" stop-color="#ff9f00"/><stop offset="0.3125" stop-color="#ffbf00"/><stop offset="0.3438" stop-color="#ffdf00"/><stop offset="0.3750" stop-color="#ffff00"/><stop offset="0.4062" stop-color="#dfff20"/><stop offset="0.4375" stop-color="#bfff40"/><stop offset="0.4688" stop-color="#9fff60"/><stop offset="0.5000" stop-color="#80ff80"/><stop offset="0.5312" stop-color="#60ff9f"/><stop offset="0.5625" stop-color="#40ffbf"/><stop offset="0.5938" stop-color="#20ffdf"/><stop offset="0.6250" stop-color="#00ffff"/><stop offset="0.6562" stop-color="#00dfff"/><stop offset="0.6875" stop-color="#00bfff"/><stop offset="0.7188" stop-color="#009fff"/><stop offset="0.7500" stop-color="#0080ff"/><stop offset="0.7812" stop-color="#0060ff"/><stop offset="0.8125" stop-color="#0040ff"/><stop offset="0.8438" stop-color="#0020ff"/><stop offset="0.8750" stop-color="#0000ff"/><stop offset="0.9062" stop-color="#0000df"/><stop offset="0.9375" stop-color="#0000bf"/><stop offset="0.9688" stop-color="#00009f"/><stop offset="1.0000" stop-color="#000080"/></linearGradient></defs>
<rect x="144.0" y="129.0" width="6.00" height="88.20" fill="url(#b1g)" stroke="#222" stroke-opacity="0.35" stroke-width="0.5"/>
<text x="153.20" y="157.97" font-family='"Liberation Sans", Arial, sans-serif' font-size="8.3" fill="#000" stroke="#000" stroke-width="0.15">5</text>
<text x="153.20" y="189.13" font-family='"Liberation Sans", Arial, sans-serif' font-size="8.3" fill="#000" stroke="#000" stroke-width="0.15">0</text>
<text x="153.20" y="220.30" font-family='"Liberation Sans", Arial, sans-serif' font-size="8.3" fill="#000" stroke="#000" stroke-width="0.15">-5</text>
<text transform="translate(162.60,174.70) rotate(90)" text-anchor="middle" font-family='"Liberation Sans", Arial, sans-serif' font-size="8.0" fill="#000" stroke="#000" stroke-width="0.15">Magnitude (A.U.)</text>
<text x="35.92" y="228.40" text-anchor="middle" font-family='"Liberation Sans", Arial, sans-serif' font-size="8.3" fill="#000" stroke="#000" stroke-width="0.15">0</text>
<text x="46.96" y="228.40" text-anchor="middle" font-family='"Liberation Sans", Arial, sans-serif' font-size="8.3" fill="#000" stroke="#000" stroke-width="0.15">1</text>
<text x="58.00" y="228.40" text-anchor="middle" font-family='"Liberation Sans", Arial, sans-serif' font-size="8.3" fill="#000" stroke="#000" stroke-width="0.15">2</text>
<text x="69.04" y="228.40" text-anchor="middle" font-family='"Liberation Sans", Arial, sans-serif' font-size="8.3" fill="#000" stroke="#000" stroke-width="0.15">3</text>
<text x="80.08" y="228.40" text-anchor="middle" font-family='"Liberation Sans", Arial, sans-serif' font-size="8.3" fill="#000" stroke="#000" stroke-width="0.15">4</text>
<text x="91.12" y="228.40" text-anchor="middle" font-family='"Liberation Sans", Arial, sans-serif' font-size="8.3" fill="#000" stroke="#000" stroke-width="0.15">5</text>
<text x="102.16" y="228.40" text-anchor="middle" font-family='"Liberation Sans", Arial, sans-serif' font-size="8.3" fill="#000" stroke="#000" stroke-width="0.15">6</text>
<text x="113.20" y="228.40" text-anchor="middle" font-family='"Liberation Sans", Arial, sans-serif' font-size="8.3" fill="#000" stroke="#000" stroke-width="0.15">7</text>
<text x="124.24" y="228.40" text-anchor="middle" font-family='"Liberation Sans", Arial, sans-serif' font-size="8.3" fill="#000" stroke="#000" stroke-width="0.15">8</text>
<text x="135.28" y="228.40" text-anchor="middle" font-family='"Liberation Sans", Arial, sans-serif' font-size="8.3" fill="#000" stroke="#000" stroke-width="0.15">9</text>
<text x="27.20" y="138.14" text-anchor="end" font-family='"Liberation Sans", Arial, sans-serif' font-size="8.3" fill="#000" stroke="#000" stroke-width="0.15">0</text>
<text x="27.20" y="149.21" text-anchor="end" font-family='"Liberation Sans", Arial, sans-serif' font-size="8.3" fill="#000" stroke="#000" stroke-width="0.15">1</text>
<text x="27.20" y="160.29" text-anchor="end" font-family='"Liberation Sans", Arial, sans-serif' font-size="8.3" fill="#000" stroke="#000" stroke-width="0.15">2</text>
<text x="27.20" y="171.36" text-anchor="end" font-family='"Liberation Sans", Arial, sans-serif' font-size="8.3" fill="#000" stroke="#000" stroke-width="0.15">3</text>
<text x="27.20" y="182.44" text-anchor="end" font-family='"Liberation Sans", Arial, sans-serif' font-size="8.3" fill="#000" stroke="#000" stroke-width="0.15">4</text>
<text x="27.20" y="193.51" text-anchor="end" font-family='"Liberation Sans", Arial, sans-serif' font-size="8.3" fill="#000" stroke="#000" stroke-width="0.15">5</text>
<text x="27.20" y="204.59" text-anchor="end" font-family='"Liberation Sans", Arial, sans-serif' font-size="8.3" fill="#000" stroke="#000" stroke-width="0.15">6</text>
<text x="27.20" y="215.66" text-anchor="end" font-family='"Liberation Sans", Arial, sans-serif' font-size="8.3" fill="#000" stroke="#000" stroke-width="0.15">7</text>
<text x="90.00" y="238.80" text-anchor="middle" font-family='"Liberation Sans", Arial, sans-serif' font-size="8.0" fill="#000" stroke="#000" stroke-width="0.15">Position <tspan font-family='"Liberation Serif", "Times New Roman", serif' font-style="italic">x</tspan> (pixel)</text>
<text transform="translate(15.60,174.70) rotate(-90)" text-anchor="middle" font-family='"Liberation Sans", Arial, sans-serif' font-size="8.0" fill="#000" stroke="#000" stroke-width="0.15">Position <tspan font-family='"Liberation Serif", "Times New Roman", serif' font-style="italic">y</tspan> (pixel)</text>
<rect x="0.9" y="116.9" width="19.00" height="16.70" fill="#3b3b3b" stroke="#4d566b" stroke-width="0.7"/>
<text x="10.40" y="128.65" text-anchor="middle" font-family='"Liberation Sans", Arial, sans-serif' font-size="8.2" fill="#fff" stroke="#fff" stroke-width="0.25">(b1)</text>
<line x1="36.5" y1="179.4" x2="136.4" y2="179.4" stroke="#fff" stroke-width="1.2"/>
<polygon points="136.60,179.40 132.50,181.90 133.80,179.40 132.50,176.90" fill="#fff"/>
<line x1="91.6" y1="134.4" x2="91.6" y2="213.0" stroke="#fff" stroke-width="1.2"/>
<polygon points="91.60,213.20 89.10,209.10 91.60,210.40 94.10,209.10" fill="#fff"/>
<rect x="96.0" y="183.2" width="29.60" height="10.60" fill="#c9c2c2"/>
<text x="110.80" y="191.10" text-anchor="middle" font-family='"Liberation Sans", Arial, sans-serif' font-size="8.2" fill="#dc1820" stroke="#dc1820" stroke-width="0.35">Origin</text>
<g>
<rect x="203.60" y="128.60" width="11.37" height="11.38" fill="#00008e"/>
<rect x="214.67" y="128.60" width="11.37" height="11.38" fill="#0000d6"/>
<rect x="225.74" y="128.60" width="11.37" height="11.38" fill="#001fff"/>
<rect x="236.81" y="128.60" width="11.37" height="11.38" fill="#0067ff"/>
<rect x="247.88" y="128.60" width="11.37" height="11.38" fill="#00afff"/>
<rect x="258.95" y="128.60" width="11.37" height="11.38" fill="#00f7ff"/>
<rect x="270.02" y="128.60" width="11.37" height="11.38" fill="#40ffbf"/>
<rect x="281.09" y="128.60" width="11.37" height="11.38" fill="#89ff76"/>
<rect x="292.16" y="128.60" width="11.37" height="11.38" fill="#d1ff2e"/>
<rect x="303.23" y="128.60" width="11.37" height="11.38" fill="#ffe500"/>
<rect x="203.60" y="139.67" width="11.37" height="11.38" fill="#00008e"/>
<rect x="214.67" y="139.67" width="11.37" height="11.38" fill="#0000d6"/>
<rect x="225.74" y="139.67" width="11.37" height="11.38" fill="#001fff"/>
<rect x="236.81" y="139.67" width="11.37" height="11.38" fill="#0067ff"/>
<rect x="247.88" y="139.67" width="11.37" height="11.38" fill="#00afff"/>
<rect x="258.95" y="139.67" width="11.37" height="11.38" fill="#00f7ff"/>
<rect x="270.02" y="139.67" width="11.37" height="11.38" fill="#40ffbf"/>
<rect x="281.09" y="139.67" width="11.37" height="11.38" fill="#89ff76"/>
<rect x="292.16" y="139.67" width="11.37" height="11.38" fill="#d1ff2e"/>
<rect x="303.23" y="139.67" width="11.37" height="11.38" fill="#ffe500"/>
<rect x="203.60" y="150.75" width="11.37" height="11.38" fill="#00008e"/>
<rect x="214.67" y="150.75" width="11.37" height="11.38" fill="#0000d6"/>
<rect x="225.74" y="150.75" width="11.37" height="11.38" fill="#001fff"/>
<rect x="236.81" y="150.75" width="11.37" height="11.38" fill="#0067ff"/>
<rect x="247.88" y="150.75" width="11.37" height="11.38" fill="#00afff"/>
<rect x="258.95" y="150.75" width="11.37" height="11.38" fill="#00f7ff"/>
<rect x="270.02" y="150.75" width="11.37" height="11.38" fill="#40ffbf"/>
<rect x="281.09" y="150.75" width="11.37" height="11.38" fill="#89ff76"/>
<rect x="292.16" y="150.75" width="11.37" height="11.38" fill="#d1ff2e"/>
<rect x="303.23" y="150.75" width="11.37" height="11.38" fill="#ffe500"/>
<rect x="203.60" y="161.82" width="11.37" height="11.38" fill="#00008e"/>
<rect x="214.67" y="161.82" width="11.37" height="11.38" fill="#0000d6"/>
<rect x="225.74" y="161.82" width="11.37" height="11.38" fill="#001fff"/>
<rect x="236.81" y="161.82" width="11.37" height="11.38" fill="#0067ff"/>
<rect x="247.88" y="161.82" width="11.37" height="11.38" fill="#00afff"/>
<rect x="258.95" y="161.82" width="11.37" height="11.38" fill="#00f7ff"/>
<rect x="270.02" y="161.82" width="11.37" height="11.38" fill="#40ffbf"/>
<rect x="281.09" y="161.82" width="11.37" height="11.38" fill="#89ff76"/>
<rect x="292.16" y="161.82" width="11.37" height="11.38" fill="#d1ff2e"/>
<rect x="303.23" y="161.82" width="11.37" height="11.38" fill="#ffe500"/>
<rect x="203.60" y="172.90" width="11.37" height="11.38" fill="#00008e"/>
<rect x="214.67" y="172.90" width="11.37" height="11.38" fill="#0000d6"/>
<rect x="225.74" y="172.90" width="11.37" height="11.38" fill="#001fff"/>
<rect x="236.81" y="172.90" width="11.37" height="11.38" fill="#0067ff"/>
<rect x="247.88" y="172.90" width="11.37" height="11.38" fill="#00afff"/>
<rect x="258.95" y="172.90" width="11.37" height="11.38" fill="#00f7ff"/>
<rect x="270.02" y="172.90" width="11.37" height="11.38" fill="#40ffbf"/>
<rect x="281.09" y="172.90" width="11.37" height="11.38" fill="#89ff76"/>
<rect x="292.16" y="172.90" width="11.37" height="11.38" fill="#d1ff2e"/>
<rect x="303.23" y="172.90" width="11.37" height="11.38" fill="#ffe500"/>
<rect x="203.60" y="183.97" width="11.37" height="11.38" fill="#00008e"/>
<rect x="214.67" y="183.97" width="11.37" height="11.38" fill="#0000d6"/>
<rect x="225.74" y="183.97" width="11.37" height="11.38" fill="#001fff"/>
<rect x="236.81" y="183.97" width="11.37" height="11.38" fill="#0067ff"/>
<rect x="247.88" y="183.97" width="11.37" height="11.38" fill="#00afff"/>
<rect x="258.95" y="183.97" width="11.37" height="11.38" fill="#00f7ff"/>
<rect x="270.02" y="183.97" width="11.37" height="11.38" fill="#40ffbf"/>
<rect x="281.09" y="183.97" width="11.37" height="11.38" fill="#89ff76"/>
<rect x="292.16" y="183.97" width="11.37" height="11.38" fill="#d1ff2e"/>
<rect x="303.23" y="183.97" width="11.37" height="11.38" fill="#ffe500"/>
<rect x="203.60" y="195.05" width="11.37" height="11.38" fill="#00008e"/>
<rect x="214.67" y="195.05" width="11.37" height="11.38" fill="#0000d6"/>
<rect x="225.74" y="195.05" width="11.37" height="11.38" fill="#001fff"/>
<rect x="236.81" y="195.05" width="11.37" height="11.38" fill="#0067ff"/>
<rect x="247.88" y="195.05" width="11.37" height="11.38" fill="#00afff"/>
<rect x="258.95" y="195.05" width="11.37" height="11.38" fill="#00f7ff"/>
<rect x="270.02" y="195.05" width="11.37" height="11.38" fill="#40ffbf"/>
<rect x="281.09" y="195.05" width="11.37" height="11.38" fill="#89ff76"/>
<rect x="292.16" y="195.05" width="11.37" height="11.38" fill="#d1ff2e"/>
<rect x="303.23" y="195.05" width="11.37" height="11.38" fill="#ffe500"/>
<rect x="203.60" y="206.12" width="11.37" height="11.38" fill="#00008e"/>
<rect x="214.67" y="206.12" width="11.37" height="11.38" fill="#0000d6"/>
<rect x="225.74" y="206.12" width="11.37" height="11.38" fill="#001fff"/>
<rect x="236.81" y="206.12" width="11.37" height="11.38" fill="#0067ff"/>
<rect x="247.88" y="206.12" width="11.37" height="11.38" fill="#00afff"/>
<rect x="258.95" y="206.12" width="11.37" height="11.38" fill="#00f7ff"/>
<rect x="270.02" y="206.12" width="11.37" height="11.38" fill="#40ffbf"/>
<rect x="281.09" y="206.12" width="11.37" height="11.38" fill="#89ff76"/>
<rect x="292.16" y="206.12" width="11.37" height="11.38" fill="#d1ff2e"/>
<rect x="303.23" y="206.12" width="11.37" height="11.38" fill="#ffe500"/>
</g>
<line x1="203.6" y1="140.07" x2="314.3" y2="140.07" stroke="#fff" stroke-opacity="0.45" stroke-width="0.6"/>
<line x1="203.6" y1="151.15" x2="314.3" y2="151.15" stroke="#fff" stroke-opacity="0.45" stroke-width="0.6"/>
<line x1="203.6" y1="162.22" x2="314.3" y2="162.22" stroke="#fff" stroke-opacity="0.45" stroke-width="0.6"/>
<line x1="203.6" y1="173.30" x2="314.3" y2="173.30" stroke="#fff" stroke-opacity="0.45" stroke-width="0.6"/>
<line x1="203.6" y1="184.38" x2="314.3" y2="184.38" stroke="#fff" stroke-opacity="0.45" stroke-width="0.6"/>
<line x1="203.6" y1="195.45" x2="314.3" y2="195.45" stroke="#fff" stroke-opacity="0.45" stroke-width="0.6"/>
<line x1="203.6" y1="206.53" x2="314.3" y2="206.53" stroke="#fff" stroke-opacity="0.45" stroke-width="0.6"/>
<line x1="209.13" y1="128.6" x2="209.13" y2="129.6" stroke="#333" stroke-opacity="0.5" stroke-width="0.5"/>
<line x1="209.13" y1="217.2" x2="209.13" y2="216.2" stroke="#333" stroke-opacity="0.5" stroke-width="0.5"/>
<line x1="220.20" y1="128.6" x2="220.20" y2="129.6" stroke="#333" stroke-opacity="0.5" stroke-width="0.5"/>
<line x1="220.20" y1="217.2" x2="220.20" y2="216.2" stroke="#333" stroke-opacity="0.5" stroke-width="0.5"/>
<line x1="231.28" y1="128.6" x2="231.28" y2="129.6" stroke="#333" stroke-opacity="0.5" stroke-width="0.5"/>
<line x1="231.28" y1="217.2" x2="231.28" y2="216.2" stroke="#333" stroke-opacity="0.5" stroke-width="0.5"/>
<line x1="242.34" y1="128.6" x2="242.34" y2="129.6" stroke="#333" stroke-opacity="0.5" stroke-width="0.5"/>
<line x1="242.34" y1="217.2" x2="242.34" y2="216.2" stroke="#333" stroke-opacity="0.5" stroke-width="0.5"/>
<line x1="253.42" y1="128.6" x2="253.42" y2="129.6" stroke="#333" stroke-opacity="0.5" stroke-width="0.5"/>
<line x1="253.42" y1="217.2" x2="253.42" y2="216.2" stroke="#333" stroke-opacity="0.5" stroke-width="0.5"/>
<line x1="264.49" y1="128.6" x2="264.49" y2="129.6" stroke="#333" stroke-opacity="0.5" stroke-width="0.5"/>
<line x1="264.49" y1="217.2" x2="264.49" y2="216.2" stroke="#333" stroke-opacity="0.5" stroke-width="0.5"/>
<line x1="275.56" y1="128.6" x2="275.56" y2="129.6" stroke="#333" stroke-opacity="0.5" stroke-width="0.5"/>
<line x1="275.56" y1="217.2" x2="275.56" y2="216.2" stroke="#333" stroke-opacity="0.5" stroke-width="0.5"/>
<line x1="286.62" y1="128.6" x2="286.62" y2="129.6" stroke="#333" stroke-opacity="0.5" stroke-width="0.5"/>
<line x1="286.62" y1="217.2" x2="286.62" y2="216.2" stroke="#333" stroke-opacity="0.5" stroke-width="0.5"/>
<line x1="297.69" y1="128.6" x2="297.69" y2="129.6" stroke="#333" stroke-opacity="0.5" stroke-width="0.5"/>
<line x1="297.69" y1="217.2" x2="297.69" y2="216.2" stroke="#333" stroke-opacity="0.5" stroke-width="0.5"/>
<line x1="308.76" y1="128.6" x2="308.76" y2="129.6" stroke="#333" stroke-opacity="0.5" stroke-width="0.5"/>
<line x1="308.76" y1="217.2" x2="308.76" y2="216.2" stroke="#333" stroke-opacity="0.5" stroke-width="0.5"/>
<defs><linearGradient id="b2g" x1="0" y1="0" x2="0" y2="1"><stop offset="0.0000" stop-color="#800000"/><stop offset="0.0312" stop-color="#9f0000"/><stop offset="0.0625" stop-color="#bf0000"/><stop offset="0.0938" stop-color="#df0000"/><stop offset="0.1250" stop-color="#ff0000"/><stop offset="0.1562" stop-color="#ff2000"/><stop offset="0.1875" stop-color="#ff4000"/><stop offset="0.2188" stop-color="#ff6000"/><stop offset="0.2500" stop-color="#ff8000"/><stop offset="0.2812" stop-color="#ff9f00"/><stop offset="0.3125" stop-color="#ffbf00"/><stop offset="0.3438" stop-color="#ffdf00"/><stop offset="0.3750" stop-color="#ffff00"/><stop offset="0.4062" stop-color="#dfff20"/><stop offset="0.4375" stop-color="#bfff40"/><stop offset="0.4688" stop-color="#9fff60"/><stop offset="0.5000" stop-color="#80ff80"/><stop offset="0.5312" stop-color="#60ff9f"/><stop offset="0.5625" stop-color="#40ffbf"/><stop offset="0.5938" stop-color="#20ffdf"/><stop offset="0.6250" stop-color="#00ffff"/><stop offset="0.6562" stop-color="#00dfff"/><stop offset="0.6875" stop-color="#00bfff"/><stop offset="0.7188" stop-color="#009fff"/><stop offset="0.7500" stop-color="#0080ff"/><stop offset="0.7812" stop-color="#0060ff"/><stop offset="0.8125" stop-color="#0040ff"/><stop offset="0.8438" stop-color="#0020ff"/><stop offset="0.8750" stop-color="#0000ff"/><stop offset="0.9062" stop-color="#0000df"/><stop offset="0.9375" stop-color="#0000bf"/><stop offset="0.9688" stop-color="#00009f"/><stop offset="1.0000" stop-color="#000080"/></linearGradient></defs>
<rect x="317.2" y="129.0" width="6.00" height="88.20" fill="url(#b2g)" stroke="#222" stroke-opacity="0.35" stroke-width="0.5"/>
<text x="326.40" y="157.97" font-family='"Liberation Sans", Arial, sans-serif' font-size="8.3" fill="#000" stroke="#000" stroke-width="0.15">5</text>
<text x="326.40" y="189.13" font-family='"Liberation Sans", Arial, sans-serif' font-size="8.3" fill="#000" stroke="#000" stroke-width="0.15">0</text>
<text x="326.40" y="220.30" font-family='"Liberation Sans", Arial, sans-serif' font-size="8.3" fill="#000" stroke="#000" stroke-width="0.15">-5</text>
<text transform="translate(336.00,174.70) rotate(90)" text-anchor="middle" font-family='"Liberation Sans", Arial, sans-serif' font-size="8.0" fill="#000" stroke="#000" stroke-width="0.15">Magnitude (A.U.)</text>
<text x="209.13" y="228.40" text-anchor="middle" font-family='"Liberation Sans", Arial, sans-serif' font-size="8.3" fill="#000" stroke="#000" stroke-width="0.15">0</text>
<text x="220.20" y="228.40" text-anchor="middle" font-family='"Liberation Sans", Arial, sans-serif' font-size="8.3" fill="#000" stroke="#000" stroke-width="0.15">1</text>
<text x="231.28" y="228.40" text-anchor="middle" font-family='"Liberation Sans", Arial, sans-serif' font-size="8.3" fill="#000" stroke="#000" stroke-width="0.15">2</text>
<text x="242.34" y="228.40" text-anchor="middle" font-family='"Liberation Sans", Arial, sans-serif' font-size="8.3" fill="#000" stroke="#000" stroke-width="0.15">3</text>
<text x="253.42" y="228.40" text-anchor="middle" font-family='"Liberation Sans", Arial, sans-serif' font-size="8.3" fill="#000" stroke="#000" stroke-width="0.15">4</text>
<text x="264.49" y="228.40" text-anchor="middle" font-family='"Liberation Sans", Arial, sans-serif' font-size="8.3" fill="#000" stroke="#000" stroke-width="0.15">5</text>
<text x="275.56" y="228.40" text-anchor="middle" font-family='"Liberation Sans", Arial, sans-serif' font-size="8.3" fill="#000" stroke="#000" stroke-width="0.15">6</text>
<text x="286.62" y="228.40" text-anchor="middle" font-family='"Liberation Sans", Arial, sans-serif' font-size="8.3" fill="#000" stroke="#000" stroke-width="0.15">7</text>
<text x="297.69" y="228.40" text-anchor="middle" font-family='"Liberation Sans", Arial, sans-serif' font-size="8.3" fill="#000" stroke="#000" stroke-width="0.15">8</text>
<text x="308.76" y="228.40" text-anchor="middle" font-family='"Liberation Sans", Arial, sans-serif' font-size="8.3" fill="#000" stroke="#000" stroke-width="0.15">9</text>
<text x="200.40" y="138.14" text-anchor="end" font-family='"Liberation Sans", Arial, sans-serif' font-size="8.3" fill="#000" stroke="#000" stroke-width="0.15">0</text>
<text x="200.40" y="149.21" text-anchor="end" font-family='"Liberation Sans", Arial, sans-serif' font-size="8.3" fill="#000" stroke="#000" stroke-width="0.15">1</text>
<text x="200.40" y="160.29" text-anchor="end" font-family='"Liberation Sans", Arial, sans-serif' font-size="8.3" fill="#000" stroke="#000" stroke-width="0.15">2</text>
<text x="200.40" y="171.36" text-anchor="end" font-family='"Liberation Sans", Arial, sans-serif' font-size="8.3" fill="#000" stroke="#000" stroke-width="0.15">3</text>
<text x="200.40" y="182.44" text-anchor="end" font-family='"Liberation Sans", Arial, sans-serif' font-size="8.3" fill="#000" stroke="#000" stroke-width="0.15">4</text>
<text x="200.40" y="193.51" text-anchor="end" font-family='"Liberation Sans", Arial, sans-serif' font-size="8.3" fill="#000" stroke="#000" stroke-width="0.15">5</text>
<text x="200.40" y="204.59" text-anchor="end" font-family='"Liberation Sans", Arial, sans-serif' font-size="8.3" fill="#000" stroke="#000" stroke-width="0.15">6</text>
<text x="200.40" y="215.66" text-anchor="end" font-family='"Liberation Sans", Arial, sans-serif' font-size="8.3" fill="#000" stroke="#000" stroke-width="0.15">7</text>
<text x="265.20" y="238.80" text-anchor="middle" font-family='"Liberation Sans", Arial, sans-serif' font-size="8.0" fill="#000" stroke="#000" stroke-width="0.15">Position <tspan font-family='"Liberation Serif", "Times New Roman", serif' font-style="italic">x</tspan> (pixel)</text>
<text transform="translate(190.00,174.70) rotate(-90)" text-anchor="middle" font-family='"Liberation Sans", Arial, sans-serif' font-size="8.0" fill="#000" stroke="#000" stroke-width="0.15">Position <tspan font-family='"Liberation Serif", "Times New Roman", serif' font-style="italic">y</tspan> (pixel)</text>
<rect x="173.6" y="116.9" width="19.30" height="16.70" fill="#3b3b3b" stroke="#4d566b" stroke-width="0.7"/>
<text x="183.25" y="128.65" text-anchor="middle" font-family='"Liberation Sans", Arial, sans-serif' font-size="8.2" fill="#fff" stroke="#fff" stroke-width="0.25">(b2)</text>
<line x1="209.6" y1="179.4" x2="309.6" y2="179.4" stroke="#fff" stroke-width="1.2"/>
<polygon points="309.80,179.40 305.70,181.90 307.00,179.40 305.70,176.90" fill="#fff"/>
<line x1="264.0" y1="134.4" x2="264.0" y2="212.6" stroke="#fff" stroke-width="1.2"/>
<polygon points="264.00,212.80 261.50,208.70 264.00,210.00 266.50,208.70" fill="#fff"/>
<rect x="268.4" y="182.6" width="30.80" height="11.20" fill="#c9c2c2"/>
<text x="283.80" y="190.80" text-anchor="middle" font-family='"Liberation Sans", Arial, sans-serif' font-size="8.2" fill="#dc1820" stroke="#dc1820" stroke-width="0.35">Origin</text>
<g>
<rect x="31.30" y="248.00" width="11.43" height="11.34" fill="#f8f818"/>
<rect x="42.43" y="248.00" width="11.43" height="11.34" fill="#fdcc32"/>
<rect x="53.56" y="248.00" width="11.43" height="11.34" fill="#d5be28"/>
<rect x="64.69" y="248.00" width="11.43" height="11.34" fill="#93ca4a"/>
<rect x="75.82" y="248.00" width="11.43" height="11.34" fill="#5acc77"/>
<rect x="86.95" y="248.00" width="11.43" height="11.34" fill="#5acc77"/>
<rect x="98.08" y="248.00" width="11.43" height="11.34" fill="#61cd72"/>
<rect x="109.21" y="248.00" width="11.43" height="11.34" fill="#a9c73b"/>
<rect x="120.34" y="248.00" width="11.43" height="11.34" fill="#eeba34"/>
<rect x="131.47" y="248.00" width="11.43" height="11.34" fill="#fad52d"/>
<rect x="31.30" y="259.04" width="11.43" height="11.34" fill="#fccf30"/>
<rect x="42.43" y="259.04" width="11.43" height="11.34" fill="#d5be28"/>
<rect x="53.56" y="259.04" width="11.43" height="11.34" fill="#76cc61"/>
<rect x="64.69" y="259.04" width="11.43" height="11.34" fill="#2dc4a5"/>
<rect x="75.82" y="259.04" width="11.43" height="11.34" fill="#08bcbf"/>
<rect x="86.95" y="259.04" width="11.43" height="11.34" fill="#0ebdbb"/>
<rect x="98.08" y="259.04" width="11.43" height="11.34" fill="#1bc0b4"/>
<rect x="109.21" y="259.04" width="11.43" height="11.34" fill="#42ca8b"/>
<rect x="120.34" y="259.04" width="11.43" height="11.34" fill="#8ccb50"/>
<rect x="131.47" y="259.04" width="11.43" height="11.34" fill="#f3ba38"/>
<rect x="31.30" y="270.07" width="11.43" height="11.34" fill="#f3ba38"/>
<rect x="42.43" y="270.07" width="11.43" height="11.34" fill="#85cb56"/>
<rect x="53.56" y="270.07" width="11.43" height="11.34" fill="#2ac3a9"/>
<rect x="64.69" y="270.07" width="11.43" height="11.34" fill="#17aeda"/>
<rect x="75.82" y="270.07" width="11.43" height="11.34" fill="#2a92ee"/>
<rect x="86.95" y="270.07" width="11.43" height="11.34" fill="#2c90f0"/>
<rect x="98.08" y="270.07" width="11.43" height="11.34" fill="#21a3e3"/>
<rect x="109.21" y="270.07" width="11.43" height="11.34" fill="#01bac5"/>
<rect x="120.34" y="270.07" width="11.43" height="11.34" fill="#42ca8b"/>
<rect x="131.47" y="270.07" width="11.43" height="11.34" fill="#a9c73b"/>
<rect x="31.30" y="281.11" width="11.43" height="11.34" fill="#e0bc2a"/>
<rect x="42.43" y="281.11" width="11.43" height="11.34" fill="#5acc77"/>
<rect x="53.56" y="281.11" width="11.43" height="11.34" fill="#01b8c9"/>
<rect x="64.69" y="281.11" width="11.43" height="11.34" fill="#2c90f0"/>
<rect x="75.82" y="281.11" width="11.43" height="11.34" fill="#4564fd"/>
<rect x="86.95" y="281.11" width="11.43" height="11.34" fill="#484aee"/>
<rect x="98.08" y="281.11" width="11.43" height="11.34" fill="#426afe"/>
<rect x="109.21" y="281.11" width="11.43" height="11.34" fill="#1caadf"/>
<rect x="120.34" y="281.11" width="11.43" height="11.34" fill="#15bfb8"/>
<rect x="131.47" y="281.11" width="11.43" height="11.34" fill="#6fcd66"/>
<rect x="31.30" y="292.15" width="11.43" height="11.34" fill="#fdbd3d"/>
<rect x="42.43" y="292.15" width="11.43" height="11.34" fill="#a2c840"/>
<rect x="53.56" y="292.15" width="11.43" height="11.34" fill="#2ac3a9"/>
<rect x="64.69" y="292.15" width="11.43" height="11.34" fill="#2797eb"/>
<rect x="75.82" y="292.15" width="11.43" height="11.34" fill="#4564fd"/>
<rect x="86.95" y="292.15" width="11.43" height="11.34" fill="#3f28ae"/>
<rect x="98.08" y="292.15" width="11.43" height="11.34" fill="#4758f8"/>
<rect x="109.21" y="292.15" width="11.43" height="11.34" fill="#2d88f6"/>
<rect x="120.34" y="292.15" width="11.43" height="11.34" fill="#08bcbf"/>
<rect x="131.47" y="292.15" width="11.43" height="11.34" fill="#85cb56"/>
<rect x="31.30" y="303.19" width="11.43" height="11.34" fill="#fec339"/>
<rect x="42.43" y="303.19" width="11.43" height="11.34" fill="#a9c73b"/>
<rect x="53.56" y="303.19" width="11.43" height="11.34" fill="#2dc4a5"/>
<rect x="64.69" y="303.19" width="11.43" height="11.34" fill="#17aeda"/>
<rect x="75.82" y="303.19" width="11.43" height="11.34" fill="#2f82f9"/>
<rect x="86.95" y="303.19" width="11.43" height="11.34" fill="#4564fd"/>
<rect x="98.08" y="303.19" width="11.43" height="11.34" fill="#3b73fe"/>
<rect x="109.21" y="303.19" width="11.43" height="11.34" fill="#23a1e4"/>
<rect x="120.34" y="303.19" width="11.43" height="11.34" fill="#15bfb8"/>
<rect x="131.47" y="303.19" width="11.43" height="11.34" fill="#8ccb50"/>
<rect x="31.30" y="314.23" width="11.43" height="11.34" fill="#fbd22f"/>
<rect x="42.43" y="314.23" width="11.43" height="11.34" fill="#c9c129"/>
<rect x="53.56" y="314.23" width="11.43" height="11.34" fill="#54cc7c"/>
<rect x="64.69" y="314.23" width="11.43" height="11.34" fill="#08bcbf"/>
<rect x="75.82" y="314.23" width="11.43" height="11.34" fill="#1caadf"/>
<rect x="86.95" y="314.23" width="11.43" height="11.34" fill="#1ea8e0"/>
<rect x="98.08" y="314.23" width="11.43" height="11.34" fill="#1aacdd"/>
<rect x="109.21" y="314.23" width="11.43" height="11.34" fill="#08bcbf"/>
<rect x="120.34" y="314.23" width="11.43" height="11.34" fill="#4dcc82"/>
<rect x="131.47" y="314.23" width="11.43" height="11.34" fill="#b6c532"/>
<rect x="31.30" y="325.26" width="11.43" height="11.34" fill="#f7f51c"/>
<rect x="42.43" y="325.26" width="11.43" height="11.34" fill="#fec934"/>
<rect x="53.56" y="325.26" width="11.43" height="11.34" fill="#b6c532"/>
<rect x="64.69" y="325.26" width="11.43" height="11.34" fill="#5acc77"/>
<rect x="75.82" y="325.26" width="11.43" height="11.34" fill="#30c5a1"/>
<rect x="86.95" y="325.26" width="11.43" height="11.34" fill="#2dc4a5"/>
<rect x="98.08" y="325.26" width="11.43" height="11.34" fill="#30c5a1"/>
<rect x="109.21" y="325.26" width="11.43" height="11.34" fill="#5acc77"/>
<rect x="120.34" y="325.26" width="11.43" height="11.34" fill="#a9c73b"/>
<rect x="131.47" y="325.26" width="11.43" height="11.34" fill="#f3ba38"/>
</g>
<line x1="36.87" y1="248.0" x2="36.87" y2="249.0" stroke="#333" stroke-opacity="0.5" stroke-width="0.5"/>
<line x1="36.87" y1="336.3" x2="36.87" y2="335.3" stroke="#333" stroke-opacity="0.5" stroke-width="0.5"/>
<line x1="48.00" y1="248.0" x2="48.00" y2="249.0" stroke="#333" stroke-opacity="0.5" stroke-width="0.5"/>
<line x1="48.00" y1="336.3" x2="48.00" y2="335.3" stroke="#333" stroke-opacity="0.5" stroke-width="0.5"/>
<line x1="59.12" y1="248.0" x2="59.12" y2="249.0" stroke="#333" stroke-opacity="0.5" stroke-width="0.5"/>
<line x1="59.12" y1="336.3" x2="59.12" y2="335.3" stroke="#333" stroke-opacity="0.5" stroke-width="0.5"/>
<line x1="70.25" y1="248.0" x2="70.25" y2="249.0" stroke="#333" stroke-opacity="0.5" stroke-width="0.5"/>
<line x1="70.25" y1="336.3" x2="70.25" y2="335.3" stroke="#333" stroke-opacity="0.5" stroke-width="0.5"/>
<line x1="81.38" y1="248.0" x2="81.38" y2="249.0" stroke="#333" stroke-opacity="0.5" stroke-width="0.5"/>
<line x1="81.38" y1="336.3" x2="81.38" y2="335.3" stroke="#333" stroke-opacity="0.5" stroke-width="0.5"/>
<line x1="92.52" y1="248.0" x2="92.52" y2="249.0" stroke="#333" stroke-opacity="0.5" stroke-width="0.5"/>
<line x1="92.52" y1="336.3" x2="92.52" y2="335.3" stroke="#333" stroke-opacity="0.5" stroke-width="0.5"/>
<line x1="103.64" y1="248.0" x2="103.64" y2="249.0" stroke="#333" stroke-opacity="0.5" stroke-width="0.5"/>
<line x1="103.64" y1="336.3" x2="103.64" y2="335.3" stroke="#333" stroke-opacity="0.5" stroke-width="0.5"/>
<line x1="114.77" y1="248.0" x2="114.77" y2="249.0" stroke="#333" stroke-opacity="0.5" stroke-width="0.5"/>
<line x1="114.77" y1="336.3" x2="114.77" y2="335.3" stroke="#333" stroke-opacity="0.5" stroke-width="0.5"/>
<line x1="125.90" y1="248.0" x2="125.90" y2="249.0" stroke="#333" stroke-opacity="0.5" stroke-width="0.5"/>
<line x1="125.90" y1="336.3" x2="125.90" y2="335.3" stroke="#333" stroke-opacity="0.5" stroke-width="0.5"/>
<line x1="137.03" y1="248.0" x2="137.03" y2="249.0" stroke="#333" stroke-opacity="0.5" stroke-width="0.5"/>
<line x1="137.03" y1="336.3" x2="137.03" y2="335.3" stroke="#333" stroke-opacity="0.5" stroke-width="0.5"/>
<defs><linearGradient id="c1g" x1="0" y1="0" x2="0" y2="1"><stop offset="0.0000" stop-color="#f9fb15"/><stop offset="0.0312" stop-color="#f6ef20"/><stop offset="0.0625" stop-color="#f5e327"/><stop offset="0.0938" stop-color="#f9d62d"/><stop offset="0.1250" stop-color="#feca33"/><stop offset="0.1562" stop-color="#febe3c"/><stop offset="0.1875" stop-color="#f1ba37"/><stop offset="0.2188" stop-color="#debc2a"/><stop offset="0.2500" stop-color="#c8c129"/><stop offset="0.2812" stop-color="#afc637"/><stop offset="0.3125" stop-color="#94ca4a"/><stop offset="0.3438" stop-color="#77cc60"/><stop offset="0.3750" stop-color="#5ccc76"/><stop offset="0.4062" stop-color="#44ca8a"/><stop offset="0.4375" stop-color="#34c79c"/><stop offset="0.4688" stop-color="#28c2ab"/><stop offset="0.5000" stop-color="#12beb9"/><stop offset="0.5312" stop-color="#01b9c6"/><stop offset="0.5625" stop-color="#0cb3d3"/><stop offset="0.5938" stop-color="#1aacdd"/><stop offset="0.6250" stop-color="#21a3e3"/><stop offset="0.6562" stop-color="#269ae9"/><stop offset="0.6875" stop-color="#2c90f0"/><stop offset="0.7188" stop-color="#2e85f8"/><stop offset="0.7500" stop-color="#347afd"/><stop offset="0.7812" stop-color="#3f6efe"/><stop offset="0.8125" stop-color="#4562fc"/><stop offset="0.8438" stop-color="#4757f7"/><stop offset="0.8750" stop-color="#484cef"/><stop offset="0.9062" stop-color="#4741e5"/><stop offset="0.9375" stop-color="#4536d5"/><stop offset="0.9688" stop-color="#422ebf"/><stop offset="1.0000" stop-color="#3e26a8"/></linearGradient></defs>
<rect x="146.0" y="248.0" width="5.90" height="88.30" fill="url(#c1g)" stroke="#222" stroke-opacity="0.35" stroke-width="0.5"/>
<text x="155.10" y="257.26" font-family='"Liberation Sans", Arial, sans-serif' font-size="8.3" fill="#000" stroke="#000" stroke-width="0.15">6</text>
<text x="155.10" y="284.64" font-family='"Liberation Sans", Arial, sans-serif' font-size="8.3" fill="#000" stroke="#000" stroke-width="0.15">4</text>
<text x="155.10" y="312.02" font-family='"Liberation Sans", Arial, sans-serif' font-size="8.3" fill="#000" stroke="#000" stroke-width="0.15">2</text>
<text x="155.10" y="339.40" font-family='"Liberation Sans", Arial, sans-serif' font-size="8.3" fill="#000" stroke="#000" stroke-width="0.15">0</text>
<text transform="translate(163.50,294.55) rotate(90)" text-anchor="middle" font-family='"Liberation Sans", Arial, sans-serif' font-size="8.0" fill="#000" stroke="#000" stroke-width="0.15">Magnitude (A.U.)</text>
<text x="36.87" y="347.50" text-anchor="middle" font-family='"Liberation Sans", Arial, sans-serif' font-size="8.3" fill="#000" stroke="#000" stroke-width="0.15">0</text>
<text x="48.00" y="347.50" text-anchor="middle" font-family='"Liberation Sans", Arial, sans-serif' font-size="8.3" fill="#000" stroke="#000" stroke-width="0.15">1</text>
<text x="59.12" y="347.50" text-anchor="middle" font-family='"Liberation Sans", Arial, sans-serif' font-size="8.3" fill="#000" stroke="#000" stroke-width="0.15">2</text>
<text x="70.25" y="347.50" text-anchor="middle" font-family='"Liberation Sans", Arial, sans-serif' font-size="8.3" fill="#000" stroke="#000" stroke-width="0.15">3</text>
<text x="81.38" y="347.50" text-anchor="middle" font-family='"Liberation Sans", Arial, sans-serif' font-size="8.3" fill="#000" stroke="#000" stroke-width="0.15">4</text>
<text x="92.52" y="347.50" text-anchor="middle" font-family='"Liberation Sans", Arial, sans-serif' font-size="8.3" fill="#000" stroke="#000" stroke-width="0.15">5</text>
<text x="103.64" y="347.50" text-anchor="middle" font-family='"Liberation Sans", Arial, sans-serif' font-size="8.3" fill="#000" stroke="#000" stroke-width="0.15">6</text>
<text x="114.77" y="347.50" text-anchor="middle" font-family='"Liberation Sans", Arial, sans-serif' font-size="8.3" fill="#000" stroke="#000" stroke-width="0.15">7</text>
<text x="125.90" y="347.50" text-anchor="middle" font-family='"Liberation Sans", Arial, sans-serif' font-size="8.3" fill="#000" stroke="#000" stroke-width="0.15">8</text>
<text x="137.03" y="347.50" text-anchor="middle" font-family='"Liberation Sans", Arial, sans-serif' font-size="8.3" fill="#000" stroke="#000" stroke-width="0.15">9</text>
<text x="28.10" y="257.52" text-anchor="end" font-family='"Liberation Sans", Arial, sans-serif' font-size="8.3" fill="#000" stroke="#000" stroke-width="0.15">0</text>
<text x="28.10" y="279.59" text-anchor="end" font-family='"Liberation Sans", Arial, sans-serif' font-size="8.3" fill="#000" stroke="#000" stroke-width="0.15">2</text>
<text x="28.10" y="301.67" text-anchor="end" font-family='"Liberation Sans", Arial, sans-serif' font-size="8.3" fill="#000" stroke="#000" stroke-width="0.15">4</text>
<text x="28.10" y="323.74" text-anchor="end" font-family='"Liberation Sans", Arial, sans-serif' font-size="8.3" fill="#000" stroke="#000" stroke-width="0.15">6</text>
<text x="90.00" y="358.20" text-anchor="middle" font-family='"Liberation Sans", Arial, sans-serif' font-size="8.0" fill="#000" stroke="#000" stroke-width="0.15">Position <tspan font-family='"Liberation Serif", "Times New Roman", serif' font-style="italic">x</tspan> (pixel)</text>
<text transform="translate(15.60,294.85) rotate(-90)" text-anchor="middle" font-family='"Liberation Sans", Arial, sans-serif' font-size="8.0" fill="#000" stroke="#000" stroke-width="0.15">Position <tspan font-family='"Liberation Serif", "Times New Roman", serif' font-style="italic">y</tspan> (pixel)</text>
<rect x="0.9" y="237.0" width="19.00" height="17.00" fill="#3b3b3b" stroke="#4d566b" stroke-width="0.7"/>
<text x="10.40" y="248.90" text-anchor="middle" font-family='"Liberation Sans", Arial, sans-serif' font-size="8.2" fill="#fff" stroke="#fff" stroke-width="0.25">(c1)</text>
<g>
<rect x="204.80" y="248.00" width="11.28" height="11.34" fill="#463bdd"/>
<rect x="215.78" y="248.00" width="11.28" height="11.34" fill="#4741e5"/>
<rect x="226.76" y="248.00" width="11.28" height="11.34" fill="#4849ed"/>
<rect x="237.74" y="248.00" width="11.28" height="11.34" fill="#4854f5"/>
<rect x="248.72" y="248.00" width="11.28" height="11.34" fill="#4661fc"/>
<rect x="259.70" y="248.00" width="11.28" height="11.34" fill="#3e6fff"/>
<rect x="270.68" y="248.00" width="11.28" height="11.34" fill="#307ffb"/>
<rect x="281.66" y="248.00" width="11.28" height="11.34" fill="#2d8bf4"/>
<rect x="292.64" y="248.00" width="11.28" height="11.34" fill="#2995ec"/>
<rect x="303.62" y="248.00" width="11.28" height="11.34" fill="#259ce7"/>
<rect x="204.80" y="259.04" width="11.28" height="11.34" fill="#4434d0"/>
<rect x="215.78" y="259.04" width="11.28" height="11.34" fill="#4639da"/>
<rect x="226.76" y="259.04" width="11.28" height="11.34" fill="#4741e5"/>
<rect x="237.74" y="259.04" width="11.28" height="11.34" fill="#484df0"/>
<rect x="248.72" y="259.04" width="11.28" height="11.34" fill="#475cfa"/>
<rect x="259.70" y="259.04" width="11.28" height="11.34" fill="#3e6fff"/>
<rect x="270.68" y="259.04" width="11.28" height="11.34" fill="#2e83f9"/>
<rect x="281.66" y="259.04" width="11.28" height="11.34" fill="#2b92ee"/>
<rect x="292.64" y="259.04" width="11.28" height="11.34" fill="#259ce7"/>
<rect x="303.62" y="259.04" width="11.28" height="11.34" fill="#21a3e4"/>
<rect x="204.80" y="270.07" width="11.28" height="11.34" fill="#412ebe"/>
<rect x="215.78" y="270.07" width="11.28" height="11.34" fill="#4331c7"/>
<rect x="226.76" y="270.07" width="11.28" height="11.34" fill="#4537d5"/>
<rect x="237.74" y="270.07" width="11.28" height="11.34" fill="#4741e5"/>
<rect x="248.72" y="270.07" width="11.28" height="11.34" fill="#4854f5"/>
<rect x="259.70" y="270.07" width="11.28" height="11.34" fill="#3e6fff"/>
<rect x="270.68" y="270.07" width="11.28" height="11.34" fill="#2d8bf4"/>
<rect x="281.66" y="270.07" width="11.28" height="11.34" fill="#259ce7"/>
<rect x="292.64" y="270.07" width="11.28" height="11.34" fill="#1fa5e2"/>
<rect x="303.62" y="270.07" width="11.28" height="11.34" fill="#1babde"/>
<rect x="204.80" y="281.11" width="11.28" height="11.34" fill="#3e26a8"/>
<rect x="215.78" y="281.11" width="11.28" height="11.34" fill="#3f28ae"/>
<rect x="226.76" y="281.11" width="11.28" height="11.34" fill="#402bb7"/>
<rect x="237.74" y="281.11" width="11.28" height="11.34" fill="#4331c7"/>
<rect x="248.72" y="281.11" width="11.28" height="11.34" fill="#4741e5"/>
<rect x="259.70" y="281.11" width="11.28" height="11.34" fill="#3e6fff"/>
<rect x="270.68" y="281.11" width="11.28" height="11.34" fill="#259ce7"/>
<rect x="281.66" y="281.11" width="11.28" height="11.34" fill="#1babde"/>
<rect x="292.64" y="281.11" width="11.28" height="11.34" fill="#12b1d7"/>
<rect x="303.62" y="281.11" width="11.28" height="11.34" fill="#0bb3d2"/>
<rect x="204.80" y="292.15" width="11.28" height="11.34" fill="#f8f718"/>
<rect x="215.78" y="292.15" width="11.28" height="11.34" fill="#f8f718"/>
<rect x="226.76" y="292.15" width="11.28" height="11.34" fill="#f8f718"/>
<rect x="237.74" y="292.15" width="11.28" height="11.34" fill="#f8f718"/>
<rect x="248.72" y="292.15" width="11.28" height="11.34" fill="#f8f718"/>
<rect x="259.70" y="292.15" width="11.28" height="11.34" fill="#03bbc2"/>
<rect x="270.68" y="292.15" width="11.28" height="11.34" fill="#03bbc2"/>
<rect x="281.66" y="292.15" width="11.28" height="11.34" fill="#03bbc2"/>
<rect x="292.64" y="292.15" width="11.28" height="11.34" fill="#03bbc2"/>
<rect x="303.62" y="292.15" width="11.28" height="11.34" fill="#03bbc2"/>
<rect x="204.80" y="303.19" width="11.28" height="11.34" fill="#f5eb23"/>
<rect x="215.78" y="303.19" width="11.28" height="11.34" fill="#f5e825"/>
<rect x="226.76" y="303.19" width="11.28" height="11.34" fill="#f5e327"/>
<rect x="237.74" y="303.19" width="11.28" height="11.34" fill="#f8da2b"/>
<rect x="248.72" y="303.19" width="11.28" height="11.34" fill="#fec537"/>
<rect x="259.70" y="303.19" width="11.28" height="11.34" fill="#bcc42f"/>
<rect x="270.68" y="303.19" width="11.28" height="11.34" fill="#4dcc82"/>
<rect x="281.66" y="303.19" width="11.28" height="11.34" fill="#31c6a0"/>
<rect x="292.64" y="303.19" width="11.28" height="11.34" fill="#28c2ab"/>
<rect x="303.62" y="303.19" width="11.28" height="11.34" fill="#20c1b1"/>
<rect x="204.80" y="314.23" width="11.28" height="11.34" fill="#f6df29"/>
<rect x="215.78" y="314.23" width="11.28" height="11.34" fill="#f8da2b"/>
<rect x="226.76" y="314.23" width="11.28" height="11.34" fill="#fbd22f"/>
<rect x="237.74" y="314.23" width="11.28" height="11.34" fill="#fec537"/>
<rect x="248.72" y="314.23" width="11.28" height="11.34" fill="#f0ba36"/>
<rect x="259.70" y="314.23" width="11.28" height="11.34" fill="#bcc42f"/>
<rect x="270.68" y="314.23" width="11.28" height="11.34" fill="#7acc5e"/>
<rect x="281.66" y="314.23" width="11.28" height="11.34" fill="#4dcc82"/>
<rect x="292.64" y="314.23" width="11.28" height="11.34" fill="#39c895"/>
<rect x="303.62" y="314.23" width="11.28" height="11.34" fill="#31c6a0"/>
<rect x="204.80" y="325.26" width="11.28" height="11.34" fill="#fad52d"/>
<rect x="215.78" y="325.26" width="11.28" height="11.34" fill="#fdce31"/>
<rect x="226.76" y="325.26" width="11.28" height="11.34" fill="#fec537"/>
<rect x="237.74" y="325.26" width="11.28" height="11.34" fill="#fabb3d"/>
<rect x="248.72" y="325.26" width="11.28" height="11.34" fill="#e2bc2b"/>
<rect x="259.70" y="325.26" width="11.28" height="11.34" fill="#bcc42f"/>
<rect x="270.68" y="325.26" width="11.28" height="11.34" fill="#8fcb4e"/>
<rect x="281.66" y="325.26" width="11.28" height="11.34" fill="#67cd6c"/>
<rect x="292.64" y="325.26" width="11.28" height="11.34" fill="#4dcc82"/>
<rect x="303.62" y="325.26" width="11.28" height="11.34" fill="#3dc990"/>
</g>
<line x1="210.29" y1="248.0" x2="210.29" y2="249.0" stroke="#333" stroke-opacity="0.5" stroke-width="0.5"/>
<line x1="210.29" y1="336.3" x2="210.29" y2="335.3" stroke="#333" stroke-opacity="0.5" stroke-width="0.5"/>
<line x1="221.27" y1="248.0" x2="221.27" y2="249.0" stroke="#333" stroke-opacity="0.5" stroke-width="0.5"/>
<line x1="221.27" y1="336.3" x2="221.27" y2="335.3" stroke="#333" stroke-opacity="0.5" stroke-width="0.5"/>
<line x1="232.25" y1="248.0" x2="232.25" y2="249.0" stroke="#333" stroke-opacity="0.5" stroke-width="0.5"/>
<line x1="232.25" y1="336.3" x2="232.25" y2="335.3" stroke="#333" stroke-opacity="0.5" stroke-width="0.5"/>
<line x1="243.23" y1="248.0" x2="243.23" y2="249.0" stroke="#333" stroke-opacity="0.5" stroke-width="0.5"/>
<line x1="243.23" y1="336.3" x2="243.23" y2="335.3" stroke="#333" stroke-opacity="0.5" stroke-width="0.5"/>
<line x1="254.21" y1="248.0" x2="254.21" y2="249.0" stroke="#333" stroke-opacity="0.5" stroke-width="0.5"/>
<line x1="254.21" y1="336.3" x2="254.21" y2="335.3" stroke="#333" stroke-opacity="0.5" stroke-width="0.5"/>
<line x1="265.19" y1="248.0" x2="265.19" y2="249.0" stroke="#333" stroke-opacity="0.5" stroke-width="0.5"/>
<line x1="265.19" y1="336.3" x2="265.19" y2="335.3" stroke="#333" stroke-opacity="0.5" stroke-width="0.5"/>
<line x1="276.17" y1="248.0" x2="276.17" y2="249.0" stroke="#333" stroke-opacity="0.5" stroke-width="0.5"/>
<line x1="276.17" y1="336.3" x2="276.17" y2="335.3" stroke="#333" stroke-opacity="0.5" stroke-width="0.5"/>
<line x1="287.15" y1="248.0" x2="287.15" y2="249.0" stroke="#333" stroke-opacity="0.5" stroke-width="0.5"/>
<line x1="287.15" y1="336.3" x2="287.15" y2="335.3" stroke="#333" stroke-opacity="0.5" stroke-width="0.5"/>
<line x1="298.13" y1="248.0" x2="298.13" y2="249.0" stroke="#333" stroke-opacity="0.5" stroke-width="0.5"/>
<line x1="298.13" y1="336.3" x2="298.13" y2="335.3" stroke="#333" stroke-opacity="0.5" stroke-width="0.5"/>
<line x1="309.11" y1="248.0" x2="309.11" y2="249.0" stroke="#333" stroke-opacity="0.5" stroke-width="0.5"/>
<line x1="309.11" y1="336.3" x2="309.11" y2="335.3" stroke="#333" stroke-opacity="0.5" stroke-width="0.5"/>
<defs><linearGradient id="c2g" x1="0" y1="0" x2="0" y2="1"><stop offset="0.0000" stop-color="#f9fb15"/><stop offset="0.0312" stop-color="#f6ef20"/><stop offset="0.0625" stop-color="#f5e327"/><stop offset="0.0938" stop-color="#f9d62d"/><stop offset="0.1250" stop-color="#feca33"/><stop offset="0.1562" stop-color="#febe3c"/><stop offset="0.1875" stop-color="#f1ba37"/><stop offset="0.2188" stop-color="#debc2a"/><stop offset="0.2500" stop-color="#c8c129"/><stop offset="0.2812" stop-color="#afc637"/><stop offset="0.3125" stop-color="#94ca4a"/><stop offset="0.3438" stop-color="#77cc60"/><stop offset="0.3750" stop-color="#5ccc76"/><stop offset="0.4062" stop-color="#44ca8a"/><stop offset="0.4375" stop-color="#34c79c"/><stop offset="0.4688" stop-color="#28c2ab"/><stop offset="0.5000" stop-color="#12beb9"/><stop offset="0.5312" stop-color="#01b9c6"/><stop offset="0.5625" stop-color="#0cb3d3"/><stop offset="0.5938" stop-color="#1aacdd"/><stop offset="0.6250" stop-color="#21a3e3"/><stop offset="0.6562" stop-color="#269ae9"/><stop offset="0.6875" stop-color="#2c90f0"/><stop offset="0.7188" stop-color="#2e85f8"/><stop offset="0.7500" stop-color="#347afd"/><stop offset="0.7812" stop-color="#3f6efe"/><stop offset="0.8125" stop-color="#4562fc"/><stop offset="0.8438" stop-color="#4757f7"/><stop offset="0.8750" stop-color="#484cef"/><stop offset="0.9062" stop-color="#4741e5"/><stop offset="0.9375" stop-color="#4536d5"/><stop offset="0.9688" stop-color="#422ebf"/><stop offset="1.0000" stop-color="#3e26a8"/></linearGradient></defs>
<rect x="318.2" y="248.0" width="5.90" height="88.30" fill="url(#c2g)" stroke="#222" stroke-opacity="0.35" stroke-width="0.5"/>
<text x="327.30" y="268.36" font-family='"Liberation Sans", Arial, sans-serif' font-size="8.3" fill="#000" stroke="#000" stroke-width="0.15">2</text>
<text x="327.30" y="297.12" font-family='"Liberation Sans", Arial, sans-serif' font-size="8.3" fill="#000" stroke="#000" stroke-width="0.15">0</text>
<text x="327.30" y="325.88" font-family='"Liberation Sans", Arial, sans-serif' font-size="8.3" fill="#000" stroke="#000" stroke-width="0.15">-2</text>
<text transform="translate(335.90,295.15) rotate(90)" text-anchor="middle" font-family='"Liberation Sans", Arial, sans-serif' font-size="8.0" fill="#000" stroke="#000" stroke-width="0.15">Phase (rad)</text>
<text x="210.29" y="347.50" text-anchor="middle" font-family='"Liberation Sans", Arial, sans-serif' font-size="8.3" fill="#000" stroke="#000" stroke-width="0.15">0</text>
<text x="221.27" y="347.50" text-anchor="middle" font-family='"Liberation Sans", Arial, sans-serif' font-size="8.3" fill="#000" stroke="#000" stroke-width="0.15">1</text>
<text x="232.25" y="347.50" text-anchor="middle" font-family='"Liberation Sans", Arial, sans-serif' font-size="8.3" fill="#000" stroke="#000" stroke-width="0.15">2</text>
<text x="243.23" y="347.50" text-anchor="middle" font-family='"Liberation Sans", Arial, sans-serif' font-size="8.3" fill="#000" stroke="#000" stroke-width="0.15">3</text>
<text x="254.21" y="347.50" text-anchor="middle" font-family='"Liberation Sans", Arial, sans-serif' font-size="8.3" fill="#000" stroke="#000" stroke-width="0.15">4</text>
<text x="265.19" y="347.50" text-anchor="middle" font-family='"Liberation Sans", Arial, sans-serif' font-size="8.3" fill="#000" stroke="#000" stroke-width="0.15">5</text>
<text x="276.17" y="347.50" text-anchor="middle" font-family='"Liberation Sans", Arial, sans-serif' font-size="8.3" fill="#000" stroke="#000" stroke-width="0.15">6</text>
<text x="287.15" y="347.50" text-anchor="middle" font-family='"Liberation Sans", Arial, sans-serif' font-size="8.3" fill="#000" stroke="#000" stroke-width="0.15">7</text>
<text x="298.13" y="347.50" text-anchor="middle" font-family='"Liberation Sans", Arial, sans-serif' font-size="8.3" fill="#000" stroke="#000" stroke-width="0.15">8</text>
<text x="309.11" y="347.50" text-anchor="middle" font-family='"Liberation Sans", Arial, sans-serif' font-size="8.3" fill="#000" stroke="#000" stroke-width="0.15">9</text>
<text x="201.60" y="257.52" text-anchor="end" font-family='"Liberation Sans", Arial, sans-serif' font-size="8.3" fill="#000" stroke="#000" stroke-width="0.15">0</text>
<text x="201.60" y="279.59" text-anchor="end" font-family='"Liberation Sans", Arial, sans-serif' font-size="8.3" fill="#000" stroke="#000" stroke-width="0.15">2</text>
<text x="201.60" y="301.67" text-anchor="end" font-family='"Liberation Sans", Arial, sans-serif' font-size="8.3" fill="#000" stroke="#000" stroke-width="0.15">4</text>
<text x="201.60" y="323.74" text-anchor="end" font-family='"Liberation Sans", Arial, sans-serif' font-size="8.3" fill="#000" stroke="#000" stroke-width="0.15">6</text>
<text x="265.20" y="358.20" text-anchor="middle" font-family='"Liberation Sans", Arial, sans-serif' font-size="8.0" fill="#000" stroke="#000" stroke-width="0.15">Position <tspan font-family='"Liberation Serif", "Times New Roman", serif' font-style="italic">x</tspan> (pixel)</text>
<text transform="translate(190.00,294.85) rotate(-90)" text-anchor="middle" font-family='"Liberation Sans", Arial, sans-serif' font-size="8.0" fill="#000" stroke="#000" stroke-width="0.15">Position <tspan font-family='"Liberation Serif", "Times New Roman", serif' font-style="italic">y</tspan> (pixel)</text>
<rect x="173.6" y="237.0" width="19.30" height="16.80" fill="#3b3b3b" stroke="#4d566b" stroke-width="0.7"/>
<text x="183.25" y="248.80" text-anchor="middle" font-family='"Liberation Sans", Arial, sans-serif' font-size="8.2" fill="#fff" stroke="#fff" stroke-width="0.25">(c2)</text>
<g>
<rect x="31.00" y="367.00" width="11.08" height="11.13" fill="#7a0403"/>
<rect x="41.78" y="367.00" width="11.08" height="11.13" fill="#cc2b04"/>
<rect x="52.56" y="367.00" width="11.08" height="11.13" fill="#f76f1a"/>
<rect x="63.34" y="367.00" width="11.08" height="11.13" fill="#fdac34"/>
<rect x="74.12" y="367.00" width="11.08" height="11.13" fill="#eecf3a"/>
<rect x="84.90" y="367.00" width="11.08" height="11.13" fill="#eecf3a"/>
<rect x="95.68" y="367.00" width="11.08" height="11.13" fill="#f1cb3a"/>
<rect x="106.46" y="367.00" width="11.08" height="11.13" fill="#fe992c"/>
<rect x="117.24" y="367.00" width="11.08" height="11.13" fill="#ec530f"/>
<rect x="128.02" y="367.00" width="11.08" height="11.13" fill="#be2102"/>
<rect x="31.00" y="377.82" width="11.08" height="11.13" fill="#c82803"/>
<rect x="41.78" y="377.82" width="11.08" height="11.13" fill="#f76f1a"/>
<rect x="52.56" y="377.82" width="11.08" height="11.13" fill="#f8be39"/>
<rect x="63.34" y="377.82" width="11.08" height="11.13" fill="#c1f334"/>
<rect x="74.12" y="377.82" width="11.08" height="11.13" fill="#9cfe40"/>
<rect x="84.90" y="377.82" width="11.08" height="11.13" fill="#a1fd3d"/>
<rect x="95.68" y="377.82" width="11.08" height="11.13" fill="#acfb38"/>
<rect x="106.46" y="377.82" width="11.08" height="11.13" fill="#dfdf37"/>
<rect x="117.24" y="377.82" width="11.08" height="11.13" fill="#fcb136"/>
<rect x="128.02" y="377.82" width="11.08" height="11.13" fill="#ea4e0d"/>
<rect x="31.00" y="388.65" width="11.08" height="11.13" fill="#ea4e0d"/>
<rect x="41.78" y="388.65" width="11.08" height="11.13" fill="#fbb637"/>
<rect x="52.56" y="388.65" width="11.08" height="11.13" fill="#bcf534"/>
<rect x="63.34" y="388.65" width="11.08" height="11.13" fill="#59fb73"/>
<rect x="74.12" y="388.65" width="11.08" height="11.13" fill="#18e0bd"/>
<rect x="84.90" y="388.65" width="11.08" height="11.13" fill="#18ddc2"/>
<rect x="95.68" y="388.65" width="11.08" height="11.13" fill="#32f298"/>
<rect x="106.46" y="388.65" width="11.08" height="11.13" fill="#8fff49"/>
<rect x="117.24" y="388.65" width="11.08" height="11.13" fill="#dfdf37"/>
<rect x="128.02" y="388.65" width="11.08" height="11.13" fill="#fe992c"/>
<rect x="31.00" y="399.48" width="11.08" height="11.13" fill="#f36315"/>
<rect x="41.78" y="399.48" width="11.08" height="11.13" fill="#eecf3a"/>
<rect x="52.56" y="399.48" width="11.08" height="11.13" fill="#88ff4e"/>
<rect x="63.34" y="399.48" width="11.08" height="11.13" fill="#18ddc2"/>
<rect x="74.12" y="399.48" width="11.08" height="11.13" fill="#4196ff"/>
<rect x="84.90" y="399.48" width="11.08" height="11.13" fill="#4666dd"/>
<rect x="95.68" y="399.48" width="11.08" height="11.13" fill="#3ba0fd"/>
<rect x="106.46" y="399.48" width="11.08" height="11.13" fill="#46f884"/>
<rect x="117.24" y="399.48" width="11.08" height="11.13" fill="#a7fc3a"/>
<rect x="128.02" y="399.48" width="11.08" height="11.13" fill="#f6c33a"/>
<rect x="31.00" y="410.30" width="11.08" height="11.13" fill="#df3f08"/>
<rect x="41.78" y="410.30" width="11.08" height="11.13" fill="#fe9e2f"/>
<rect x="52.56" y="410.30" width="11.08" height="11.13" fill="#bcf534"/>
<rect x="63.34" y="410.30" width="11.08" height="11.13" fill="#1ce6b4"/>
<rect x="74.12" y="410.30" width="11.08" height="11.13" fill="#4196ff"/>
<rect x="84.90" y="410.30" width="11.08" height="11.13" fill="#33184a"/>
<rect x="95.68" y="410.30" width="11.08" height="11.13" fill="#4682f8"/>
<rect x="106.46" y="410.30" width="11.08" height="11.13" fill="#1ad2d2"/>
<rect x="117.24" y="410.30" width="11.08" height="11.13" fill="#9cfe40"/>
<rect x="128.02" y="410.30" width="11.08" height="11.13" fill="#fbb637"/>
<rect x="31.00" y="421.12" width="11.08" height="11.13" fill="#d83706"/>
<rect x="41.78" y="421.12" width="11.08" height="11.13" fill="#fe992c"/>
<rect x="52.56" y="421.12" width="11.08" height="11.13" fill="#c1f334"/>
<rect x="63.34" y="421.12" width="11.08" height="11.13" fill="#59fb73"/>
<rect x="74.12" y="421.12" width="11.08" height="11.13" fill="#20c7df"/>
<rect x="84.90" y="421.12" width="11.08" height="11.13" fill="#4196ff"/>
<rect x="95.68" y="421.12" width="11.08" height="11.13" fill="#31aff5"/>
<rect x="106.46" y="421.12" width="11.08" height="11.13" fill="#2cf09e"/>
<rect x="117.24" y="421.12" width="11.08" height="11.13" fill="#a7fc3a"/>
<rect x="128.02" y="421.12" width="11.08" height="11.13" fill="#fcb136"/>
<rect x="31.00" y="431.95" width="11.08" height="11.13" fill="#c32503"/>
<rect x="41.78" y="431.95" width="11.08" height="11.13" fill="#fa7b1f"/>
<rect x="52.56" y="431.95" width="11.08" height="11.13" fill="#ebd339"/>
<rect x="63.34" y="431.95" width="11.08" height="11.13" fill="#9cfe40"/>
<rect x="74.12" y="431.95" width="11.08" height="11.13" fill="#46f884"/>
<rect x="84.90" y="431.95" width="11.08" height="11.13" fill="#3ff68a"/>
<rect x="95.68" y="431.95" width="11.08" height="11.13" fill="#4ef97d"/>
<rect x="106.46" y="431.95" width="11.08" height="11.13" fill="#9cfe40"/>
<rect x="117.24" y="431.95" width="11.08" height="11.13" fill="#e7d739"/>
<rect x="128.02" y="431.95" width="11.08" height="11.13" fill="#fd8d27"/>
<rect x="31.00" y="442.78" width="11.08" height="11.13" fill="#810602"/>
<rect x="41.78" y="442.78" width="11.08" height="11.13" fill="#d02f05"/>
<rect x="52.56" y="442.78" width="11.08" height="11.13" fill="#fd8d27"/>
<rect x="63.34" y="442.78" width="11.08" height="11.13" fill="#eecf3a"/>
<rect x="74.12" y="442.78" width="11.08" height="11.13" fill="#c6f034"/>
<rect x="84.90" y="442.78" width="11.08" height="11.13" fill="#c1f334"/>
<rect x="95.68" y="442.78" width="11.08" height="11.13" fill="#c6f034"/>
<rect x="106.46" y="442.78" width="11.08" height="11.13" fill="#eecf3a"/>
<rect x="117.24" y="442.78" width="11.08" height="11.13" fill="#fe992c"/>
<rect x="128.02" y="442.78" width="11.08" height="11.13" fill="#ea4e0d"/>
</g>
<line x1="36.39" y1="367.0" x2="36.39" y2="368.0" stroke="#333" stroke-opacity="0.5" stroke-width="0.5"/>
<line x1="36.39" y1="453.6" x2="36.39" y2="452.6" stroke="#333" stroke-opacity="0.5" stroke-width="0.5"/>
<line x1="47.17" y1="367.0" x2="47.17" y2="368.0" stroke="#333" stroke-opacity="0.5" stroke-width="0.5"/>
<line x1="47.17" y1="453.6" x2="47.17" y2="452.6" stroke="#333" stroke-opacity="0.5" stroke-width="0.5"/>
<line x1="57.95" y1="367.0" x2="57.95" y2="368.0" stroke="#333" stroke-opacity="0.5" stroke-width="0.5"/>
<line x1="57.95" y1="453.6" x2="57.95" y2="452.6" stroke="#333" stroke-opacity="0.5" stroke-width="0.5"/>
<line x1="68.73" y1="367.0" x2="68.73" y2="368.0" stroke="#333" stroke-opacity="0.5" stroke-width="0.5"/>
<line x1="68.73" y1="453.6" x2="68.73" y2="452.6" stroke="#333" stroke-opacity="0.5" stroke-width="0.5"/>
<line x1="79.51" y1="367.0" x2="79.51" y2="368.0" stroke="#333" stroke-opacity="0.5" stroke-width="0.5"/>
<line x1="79.51" y1="453.6" x2="79.51" y2="452.6" stroke="#333" stroke-opacity="0.5" stroke-width="0.5"/>
<line x1="90.29" y1="367.0" x2="90.29" y2="368.0" stroke="#333" stroke-opacity="0.5" stroke-width="0.5"/>
<line x1="90.29" y1="453.6" x2="90.29" y2="452.6" stroke="#333" stroke-opacity="0.5" stroke-width="0.5"/>
<line x1="101.07" y1="367.0" x2="101.07" y2="368.0" stroke="#333" stroke-opacity="0.5" stroke-width="0.5"/>
<line x1="101.07" y1="453.6" x2="101.07" y2="452.6" stroke="#333" stroke-opacity="0.5" stroke-width="0.5"/>
<line x1="111.85" y1="367.0" x2="111.85" y2="368.0" stroke="#333" stroke-opacity="0.5" stroke-width="0.5"/>
<line x1="111.85" y1="453.6" x2="111.85" y2="452.6" stroke="#333" stroke-opacity="0.5" stroke-width="0.5"/>
<line x1="122.63" y1="367.0" x2="122.63" y2="368.0" stroke="#333" stroke-opacity="0.5" stroke-width="0.5"/>
<line x1="122.63" y1="453.6" x2="122.63" y2="452.6" stroke="#333" stroke-opacity="0.5" stroke-width="0.5"/>
<line x1="133.41" y1="367.0" x2="133.41" y2="368.0" stroke="#333" stroke-opacity="0.5" stroke-width="0.5"/>
<line x1="133.41" y1="453.6" x2="133.41" y2="452.6" stroke="#333" stroke-opacity="0.5" stroke-width="0.5"/>
<defs><linearGradient id="dg" x1="0" y1="0" x2="0" y2="1"><stop offset="0.0000" stop-color="#7a0403"/><stop offset="0.0312" stop-color="#920b01"/><stop offset="0.0625" stop-color="#a91601"/><stop offset="0.0938" stop-color="#be2102"/><stop offset="0.1250" stop-color="#d02f05"/><stop offset="0.1562" stop-color="#df3f08"/><stop offset="0.1875" stop-color="#eb500e"/><stop offset="0.2188" stop-color="#f46617"/><stop offset="0.2500" stop-color="#fb7e21"/><stop offset="0.2812" stop-color="#fe962b"/><stop offset="0.3125" stop-color="#fdac34"/><stop offset="0.3438" stop-color="#f8be39"/><stop offset="0.3750" stop-color="#eecf3a"/><stop offset="0.4062" stop-color="#dfdf37"/><stop offset="0.4375" stop-color="#cdec34"/><stop offset="0.4688" stop-color="#b9f635"/><stop offset="0.5000" stop-color="#a4fc3c"/><stop offset="0.5312" stop-color="#8bff4b"/><stop offset="0.5625" stop-color="#6dfe62"/><stop offset="0.5938" stop-color="#4ef97d"/><stop offset="0.6250" stop-color="#32f298"/><stop offset="0.6562" stop-color="#1fe9af"/><stop offset="0.6875" stop-color="#18ddc2"/><stop offset="0.7188" stop-color="#1ccdd8"/><stop offset="0.7500" stop-color="#28bceb"/><stop offset="0.7812" stop-color="#37a8fa"/><stop offset="0.8125" stop-color="#4294ff"/><stop offset="0.8438" stop-color="#4680f6"/><stop offset="0.8750" stop-color="#466be3"/><stop offset="0.9062" stop-color="#4456c7"/><stop offset="0.9375" stop-color="#4040a2"/><stop offset="0.9688" stop-color="#392a73"/><stop offset="1.0000" stop-color="#30123b"/></linearGradient></defs>
<rect x="142.1" y="367.0" width="6.00" height="86.50" fill="url(#dg)" stroke="#222" stroke-opacity="0.35" stroke-width="0.5"/>
<text x="150.50" y="373.16" font-family='"Liberation Sans", Arial, sans-serif' font-size="8.3" fill="#000" stroke="#000" stroke-width="0.15">60</text>
<text x="150.50" y="400.97" font-family='"Liberation Sans", Arial, sans-serif' font-size="8.3" fill="#000" stroke="#000" stroke-width="0.15">40</text>
<text x="150.50" y="428.79" font-family='"Liberation Sans", Arial, sans-serif' font-size="8.3" fill="#000" stroke="#000" stroke-width="0.15">20</text>
<text x="150.50" y="456.60" font-family='"Liberation Sans", Arial, sans-serif' font-size="8.3" fill="#000" stroke="#000" stroke-width="0.15">0</text>
<text transform="translate(163.50,411.85) rotate(90)" text-anchor="middle" font-family='"Liberation Sans", Arial, sans-serif' font-size="8.0" fill="#000" stroke="#000" stroke-width="0.15">Magnitude (A.U.)</text>
<text x="36.39" y="464.80" text-anchor="middle" font-family='"Liberation Sans", Arial, sans-serif' font-size="8.3" fill="#000" stroke="#000" stroke-width="0.15">0</text>
<text x="47.17" y="464.80" text-anchor="middle" font-family='"Liberation Sans", Arial, sans-serif' font-size="8.3" fill="#000" stroke="#000" stroke-width="0.15">1</text>
<text x="57.95" y="464.80" text-anchor="middle" font-family='"Liberation Sans", Arial, sans-serif' font-size="8.3" fill="#000" stroke="#000" stroke-width="0.15">2</text>
<text x="68.73" y="464.80" text-anchor="middle" font-family='"Liberation Sans", Arial, sans-serif' font-size="8.3" fill="#000" stroke="#000" stroke-width="0.15">3</text>
<text x="79.51" y="464.80" text-anchor="middle" font-family='"Liberation Sans", Arial, sans-serif' font-size="8.3" fill="#000" stroke="#000" stroke-width="0.15">4</text>
<text x="90.29" y="464.80" text-anchor="middle" font-family='"Liberation Sans", Arial, sans-serif' font-size="8.3" fill="#000" stroke="#000" stroke-width="0.15">5</text>
<text x="101.07" y="464.80" text-anchor="middle" font-family='"Liberation Sans", Arial, sans-serif' font-size="8.3" fill="#000" stroke="#000" stroke-width="0.15">6</text>
<text x="111.85" y="464.80" text-anchor="middle" font-family='"Liberation Sans", Arial, sans-serif' font-size="8.3" fill="#000" stroke="#000" stroke-width="0.15">7</text>
<text x="122.63" y="464.80" text-anchor="middle" font-family='"Liberation Sans", Arial, sans-serif' font-size="8.3" fill="#000" stroke="#000" stroke-width="0.15">8</text>
<text x="133.41" y="464.80" text-anchor="middle" font-family='"Liberation Sans", Arial, sans-serif' font-size="8.3" fill="#000" stroke="#000" stroke-width="0.15">9</text>
<text x="27.80" y="376.41" text-anchor="end" font-family='"Liberation Sans", Arial, sans-serif' font-size="8.3" fill="#000" stroke="#000" stroke-width="0.15">0</text>
<text x="27.80" y="398.06" text-anchor="end" font-family='"Liberation Sans", Arial, sans-serif' font-size="8.3" fill="#000" stroke="#000" stroke-width="0.15">2</text>
<text x="27.80" y="419.71" text-anchor="end" font-family='"Liberation Sans", Arial, sans-serif' font-size="8.3" fill="#000" stroke="#000" stroke-width="0.15">4</text>
<text x="27.80" y="441.36" text-anchor="end" font-family='"Liberation Sans", Arial, sans-serif' font-size="8.3" fill="#000" stroke="#000" stroke-width="0.15">6</text>
<text x="90.00" y="475.60" text-anchor="middle" font-family='"Liberation Sans", Arial, sans-serif' font-size="8.0" fill="#000" stroke="#000" stroke-width="0.15">Position <tspan font-family='"Liberation Serif", "Times New Roman", serif' font-style="italic">x</tspan> (pixel)</text>
<text transform="translate(15.60,411.80) rotate(-90)" text-anchor="middle" font-family='"Liberation Sans", Arial, sans-serif' font-size="8.0" fill="#000" stroke="#000" stroke-width="0.15">Position <tspan font-family='"Liberation Serif", "Times New Roman", serif' font-style="italic">y</tspan> (pixel)</text>
<rect x="0.9" y="360.0" width="19.00" height="16.80" fill="#3b3b3b" stroke="#4d566b" stroke-width="0.7"/>
<text x="10.40" y="371.80" text-anchor="middle" font-family='"Liberation Sans", Arial, sans-serif' font-size="8.2" fill="#fff" stroke="#fff" stroke-width="0.25">(d)</text>
<g>
<rect x="204.80" y="367.00" width="11.10" height="11.13" fill="#7e0502"/>
<rect x="215.60" y="367.00" width="11.10" height="11.13" fill="#a11201"/>
<rect x="226.40" y="367.00" width="11.10" height="11.13" fill="#ed5510"/>
<rect x="237.20" y="367.00" width="11.10" height="11.13" fill="#fd8d27"/>
<rect x="248.00" y="367.00" width="11.10" height="11.13" fill="#f1cb3a"/>
<rect x="258.80" y="367.00" width="11.10" height="11.13" fill="#d9e436"/>
<rect x="269.60" y="367.00" width="11.10" height="11.13" fill="#f2c93a"/>
<rect x="280.40" y="367.00" width="11.10" height="11.13" fill="#fa7b1f"/>
<rect x="291.20" y="367.00" width="11.10" height="11.13" fill="#e2430a"/>
<rect x="302.00" y="367.00" width="11.10" height="11.13" fill="#980e01"/>
<rect x="204.80" y="377.82" width="11.10" height="11.13" fill="#920b01"/>
<rect x="215.60" y="377.82" width="11.10" height="11.13" fill="#ef5811"/>
<rect x="226.40" y="377.82" width="11.10" height="11.13" fill="#fcb136"/>
<rect x="237.20" y="377.82" width="11.10" height="11.13" fill="#80ff53"/>
<rect x="248.00" y="377.82" width="11.10" height="11.13" fill="#27eea4"/>
<rect x="258.80" y="377.82" width="11.10" height="11.13" fill="#18dbc5"/>
<rect x="269.60" y="377.82" width="11.10" height="11.13" fill="#3ff68a"/>
<rect x="280.40" y="377.82" width="11.10" height="11.13" fill="#a4fc3c"/>
<rect x="291.20" y="377.82" width="11.10" height="11.13" fill="#fea732"/>
<rect x="302.00" y="377.82" width="11.10" height="11.13" fill="#dd3d08"/>
<rect x="204.80" y="388.65" width="11.10" height="11.13" fill="#bc2002"/>
<rect x="215.60" y="388.65" width="11.10" height="11.13" fill="#fe9e2f"/>
<rect x="226.40" y="388.65" width="11.10" height="11.13" fill="#8bff4b"/>
<rect x="237.20" y="388.65" width="11.10" height="11.13" fill="#2cb7f0"/>
<rect x="248.00" y="388.65" width="11.10" height="11.13" fill="#4682f8"/>
<rect x="258.80" y="388.65" width="11.10" height="11.13" fill="#4666dd"/>
<rect x="269.60" y="388.65" width="11.10" height="11.13" fill="#4196ff"/>
<rect x="280.40" y="388.65" width="11.10" height="11.13" fill="#23c3e4"/>
<rect x="291.20" y="388.65" width="11.10" height="11.13" fill="#b1f936"/>
<rect x="302.00" y="388.65" width="11.10" height="11.13" fill="#f76f1a"/>
<rect x="204.80" y="399.48" width="11.10" height="11.13" fill="#ca2a04"/>
<rect x="215.60" y="399.48" width="11.10" height="11.13" fill="#dde037"/>
<rect x="226.40" y="399.48" width="11.10" height="11.13" fill="#19e3b9"/>
<rect x="237.20" y="399.48" width="11.10" height="11.13" fill="#4778f0"/>
<rect x="248.00" y="399.48" width="11.10" height="11.13" fill="#3e3891"/>
<rect x="258.80" y="399.48" width="11.10" height="11.13" fill="#36215f"/>
<rect x="269.60" y="399.48" width="11.10" height="11.13" fill="#424bb5"/>
<rect x="280.40" y="399.48" width="11.10" height="11.13" fill="#3d9efe"/>
<rect x="291.20" y="399.48" width="11.10" height="11.13" fill="#43f787"/>
<rect x="302.00" y="399.48" width="11.10" height="11.13" fill="#f7c13a"/>
<rect x="204.80" y="410.30" width="11.10" height="11.13" fill="#d63506"/>
<rect x="215.60" y="410.30" width="11.10" height="11.13" fill="#e3db38"/>
<rect x="226.40" y="410.30" width="11.10" height="11.13" fill="#22ebaa"/>
<rect x="237.20" y="410.30" width="11.10" height="11.13" fill="#4778f0"/>
<rect x="248.00" y="410.30" width="11.10" height="11.13" fill="#3e3891"/>
<rect x="258.80" y="410.30" width="11.10" height="11.13" fill="#33184a"/>
<rect x="269.60" y="410.30" width="11.10" height="11.13" fill="#3c3286"/>
<rect x="280.40" y="410.30" width="11.10" height="11.13" fill="#4771e9"/>
<rect x="291.20" y="410.30" width="11.10" height="11.13" fill="#18ddc2"/>
<rect x="302.00" y="410.30" width="11.10" height="11.13" fill="#dde037"/>
<rect x="204.80" y="421.12" width="11.10" height="11.13" fill="#ca2a04"/>
<rect x="215.60" y="421.12" width="11.10" height="11.13" fill="#fbb637"/>
<rect x="226.40" y="421.12" width="11.10" height="11.13" fill="#6dfe62"/>
<rect x="237.20" y="421.12" width="11.10" height="11.13" fill="#27bee9"/>
<rect x="248.00" y="421.12" width="11.10" height="11.13" fill="#4666dd"/>
<rect x="258.80" y="421.12" width="11.10" height="11.13" fill="#3f3e9c"/>
<rect x="269.60" y="421.12" width="11.10" height="11.13" fill="#4559cb"/>
<rect x="280.40" y="421.12" width="11.10" height="11.13" fill="#3ba0fd"/>
<rect x="291.20" y="421.12" width="11.10" height="11.13" fill="#69fd66"/>
<rect x="302.00" y="421.12" width="11.10" height="11.13" fill="#fbb838"/>
<rect x="204.80" y="431.95" width="11.10" height="11.13" fill="#b41b01"/>
<rect x="215.60" y="431.95" width="11.10" height="11.13" fill="#f26014"/>
<rect x="226.40" y="431.95" width="11.10" height="11.13" fill="#d4e735"/>
<rect x="237.20" y="431.95" width="11.10" height="11.13" fill="#18d7ca"/>
<rect x="248.00" y="431.95" width="11.10" height="11.13" fill="#3d9efe"/>
<rect x="258.80" y="431.95" width="11.10" height="11.13" fill="#4771e9"/>
<rect x="269.60" y="431.95" width="11.10" height="11.13" fill="#37a8fa"/>
<rect x="280.40" y="431.95" width="11.10" height="11.13" fill="#1ad2d2"/>
<rect x="291.20" y="431.95" width="11.10" height="11.13" fill="#c3f134"/>
<rect x="302.00" y="431.95" width="11.10" height="11.13" fill="#f46617"/>
<rect x="204.80" y="442.78" width="11.10" height="11.13" fill="#880802"/>
<rect x="215.60" y="442.78" width="11.10" height="11.13" fill="#ce2d04"/>
<rect x="226.40" y="442.78" width="11.10" height="11.13" fill="#fe932a"/>
<rect x="237.20" y="442.78" width="11.10" height="11.13" fill="#c1f334"/>
<rect x="248.00" y="442.78" width="11.10" height="11.13" fill="#5dfc6f"/>
<rect x="258.80" y="442.78" width="11.10" height="11.13" fill="#18e0bd"/>
<rect x="269.60" y="442.78" width="11.10" height="11.13" fill="#79fe59"/>
<rect x="280.40" y="442.78" width="11.10" height="11.13" fill="#c1f334"/>
<rect x="291.20" y="442.78" width="11.10" height="11.13" fill="#fe992c"/>
<rect x="302.00" y="442.78" width="11.10" height="11.13" fill="#d63506"/>
</g>
<line x1="210.20" y1="367.0" x2="210.20" y2="368.0" stroke="#333" stroke-opacity="0.5" stroke-width="0.5"/>
<line x1="210.20" y1="453.6" x2="210.20" y2="452.6" stroke="#333" stroke-opacity="0.5" stroke-width="0.5"/>
<line x1="221.00" y1="367.0" x2="221.00" y2="368.0" stroke="#333" stroke-opacity="0.5" stroke-width="0.5"/>
<line x1="221.00" y1="453.6" x2="221.00" y2="452.6" stroke="#333" stroke-opacity="0.5" stroke-width="0.5"/>
<line x1="231.80" y1="367.0" x2="231.80" y2="368.0" stroke="#333" stroke-opacity="0.5" stroke-width="0.5"/>
<line x1="231.80" y1="453.6" x2="231.80" y2="452.6" stroke="#333" stroke-opacity="0.5" stroke-width="0.5"/>
<line x1="242.60" y1="367.0" x2="242.60" y2="368.0" stroke="#333" stroke-opacity="0.5" stroke-width="0.5"/>
<line x1="242.60" y1="453.6" x2="242.60" y2="452.6" stroke="#333" stroke-opacity="0.5" stroke-width="0.5"/>
<line x1="253.40" y1="367.0" x2="253.40" y2="368.0" stroke="#333" stroke-opacity="0.5" stroke-width="0.5"/>
<line x1="253.40" y1="453.6" x2="253.40" y2="452.6" stroke="#333" stroke-opacity="0.5" stroke-width="0.5"/>
<line x1="264.20" y1="367.0" x2="264.20" y2="368.0" stroke="#333" stroke-opacity="0.5" stroke-width="0.5"/>
<line x1="264.20" y1="453.6" x2="264.20" y2="452.6" stroke="#333" stroke-opacity="0.5" stroke-width="0.5"/>
<line x1="275.00" y1="367.0" x2="275.00" y2="368.0" stroke="#333" stroke-opacity="0.5" stroke-width="0.5"/>
<line x1="275.00" y1="453.6" x2="275.00" y2="452.6" stroke="#333" stroke-opacity="0.5" stroke-width="0.5"/>
<line x1="285.80" y1="367.0" x2="285.80" y2="368.0" stroke="#333" stroke-opacity="0.5" stroke-width="0.5"/>
<line x1="285.80" y1="453.6" x2="285.80" y2="452.6" stroke="#333" stroke-opacity="0.5" stroke-width="0.5"/>
<line x1="296.60" y1="367.0" x2="296.60" y2="368.0" stroke="#333" stroke-opacity="0.5" stroke-width="0.5"/>
<line x1="296.60" y1="453.6" x2="296.60" y2="452.6" stroke="#333" stroke-opacity="0.5" stroke-width="0.5"/>
<line x1="307.40" y1="367.0" x2="307.40" y2="368.0" stroke="#333" stroke-opacity="0.5" stroke-width="0.5"/>
<line x1="307.40" y1="453.6" x2="307.40" y2="452.6" stroke="#333" stroke-opacity="0.5" stroke-width="0.5"/>
<defs><linearGradient id="eg" x1="0" y1="0" x2="0" y2="1"><stop offset="0.0000" stop-color="#7a0403"/><stop offset="0.0312" stop-color="#920b01"/><stop offset="0.0625" stop-color="#a91601"/><stop offset="0.0938" stop-color="#be2102"/><stop offset="0.1250" stop-color="#d02f05"/><stop offset="0.1562" stop-color="#df3f08"/><stop offset="0.1875" stop-color="#eb500e"/><stop offset="0.2188" stop-color="#f46617"/><stop offset="0.2500" stop-color="#fb7e21"/><stop offset="0.2812" stop-color="#fe962b"/><stop offset="0.3125" stop-color="#fdac34"/><stop offset="0.3438" stop-color="#f8be39"/><stop offset="0.3750" stop-color="#eecf3a"/><stop offset="0.4062" stop-color="#dfdf37"/><stop offset="0.4375" stop-color="#cdec34"/><stop offset="0.4688" stop-color="#b9f635"/><stop offset="0.5000" stop-color="#a4fc3c"/><stop offset="0.5312" stop-color="#8bff4b"/><stop offset="0.5625" stop-color="#6dfe62"/><stop offset="0.5938" stop-color="#4ef97d"/><stop offset="0.6250" stop-color="#32f298"/><stop offset="0.6562" stop-color="#1fe9af"/><stop offset="0.6875" stop-color="#18ddc2"/><stop offset="0.7188" stop-color="#1ccdd8"/><stop offset="0.7500" stop-color="#28bceb"/><stop offset="0.7812" stop-color="#37a8fa"/><stop offset="0.8125" stop-color="#4294ff"/><stop offset="0.8438" stop-color="#4680f6"/><stop offset="0.8750" stop-color="#466be3"/><stop offset="0.9062" stop-color="#4456c7"/><stop offset="0.9375" stop-color="#4040a2"/><stop offset="0.9688" stop-color="#392a73"/><stop offset="1.0000" stop-color="#30123b"/></linearGradient></defs>
<rect x="315.4" y="367.0" width="5.80" height="86.50" fill="url(#eg)" stroke="#222" stroke-opacity="0.35" stroke-width="0.5"/>
<text x="323.40" y="371.71" font-family='"Liberation Sans", Arial, sans-serif' font-size="8.3" fill="#000" stroke="#000" stroke-width="0.15">80</text>
<text x="323.40" y="393.20" font-family='"Liberation Sans", Arial, sans-serif' font-size="8.3" fill="#000" stroke="#000" stroke-width="0.15">60</text>
<text x="323.40" y="414.69" font-family='"Liberation Sans", Arial, sans-serif' font-size="8.3" fill="#000" stroke="#000" stroke-width="0.15">40</text>
<text x="323.40" y="436.18" font-family='"Liberation Sans", Arial, sans-serif' font-size="8.3" fill="#000" stroke="#000" stroke-width="0.15">20</text>
<text transform="translate(335.80,411.85) rotate(90)" text-anchor="middle" font-family='"Liberation Sans", Arial, sans-serif' font-size="8.0" fill="#000" stroke="#000" stroke-width="0.15">Magnitude (A.U.)</text>
<text x="210.20" y="464.80" text-anchor="middle" font-family='"Liberation Sans", Arial, sans-serif' font-size="8.3" fill="#000" stroke="#000" stroke-width="0.15">0</text>
<text x="221.00" y="464.80" text-anchor="middle" font-family='"Liberation Sans", Arial, sans-serif' font-size="8.3" fill="#000" stroke="#000" stroke-width="0.15">1</text>
<text x="231.80" y="464.80" text-anchor="middle" font-family='"Liberation Sans", Arial, sans-serif' font-size="8.3" fill="#000" stroke="#000" stroke-width="0.15">2</text>
<text x="242.60" y="464.80" text-anchor="middle" font-family='"Liberation Sans", Arial, sans-serif' font-size="8.3" fill="#000" stroke="#000" stroke-width="0.15">3</text>
<text x="253.40" y="464.80" text-anchor="middle" font-family='"Liberation Sans", Arial, sans-serif' font-size="8.3" fill="#000" stroke="#000" stroke-width="0.15">4</text>
<text x="264.20" y="464.80" text-anchor="middle" font-family='"Liberation Sans", Arial, sans-serif' font-size="8.3" fill="#000" stroke="#000" stroke-width="0.15">5</text>
<text x="275.00" y="464.80" text-anchor="middle" font-family='"Liberation Sans", Arial, sans-serif' font-size="8.3" fill="#000" stroke="#000" stroke-width="0.15">6</text>
<text x="285.80" y="464.80" text-anchor="middle" font-family='"Liberation Sans", Arial, sans-serif' font-size="8.3" fill="#000" stroke="#000" stroke-width="0.15">7</text>
<text x="296.60" y="464.80" text-anchor="middle" font-family='"Liberation Sans", Arial, sans-serif' font-size="8.3" fill="#000" stroke="#000" stroke-width="0.15">8</text>
<text x="307.40" y="464.80" text-anchor="middle" font-family='"Liberation Sans", Arial, sans-serif' font-size="8.3" fill="#000" stroke="#000" stroke-width="0.15">9</text>
<text x="201.60" y="376.41" text-anchor="end" font-family='"Liberation Sans", Arial, sans-serif' font-size="8.3" fill="#000" stroke="#000" stroke-width="0.15">0</text>
<text x="201.60" y="398.06" text-anchor="end" font-family='"Liberation Sans", Arial, sans-serif' font-size="8.3" fill="#000" stroke="#000" stroke-width="0.15">2</text>
<text x="201.60" y="419.71" text-anchor="end" font-family='"Liberation Sans", Arial, sans-serif' font-size="8.3" fill="#000" stroke="#000" stroke-width="0.15">4</text>
<text x="201.60" y="441.36" text-anchor="end" font-family='"Liberation Sans", Arial, sans-serif' font-size="8.3" fill="#000" stroke="#000" stroke-width="0.15">6</text>
<text x="265.20" y="475.60" text-anchor="middle" font-family='"Liberation Sans", Arial, sans-serif' font-size="8.0" fill="#000" stroke="#000" stroke-width="0.15">Position <tspan font-family='"Liberation Serif", "Times New Roman", serif' font-style="italic">x</tspan> (pixel)</text>
<text transform="translate(190.00,411.80) rotate(-90)" text-anchor="middle" font-family='"Liberation Sans", Arial, sans-serif' font-size="8.0" fill="#000" stroke="#000" stroke-width="0.15">Position <tspan font-family='"Liberation Serif", "Times New Roman", serif' font-style="italic">y</tspan> (pixel)</text>
<rect x="173.6" y="360.0" width="19.50" height="16.70" fill="#3b3b3b" stroke="#4d566b" stroke-width="0.7"/>
<text x="183.35" y="371.75" text-anchor="middle" font-family='"Liberation Sans", Arial, sans-serif' font-size="8.2" fill="#fff" stroke="#fff" stroke-width="0.25">(e)</text>
</svg></body></html>
